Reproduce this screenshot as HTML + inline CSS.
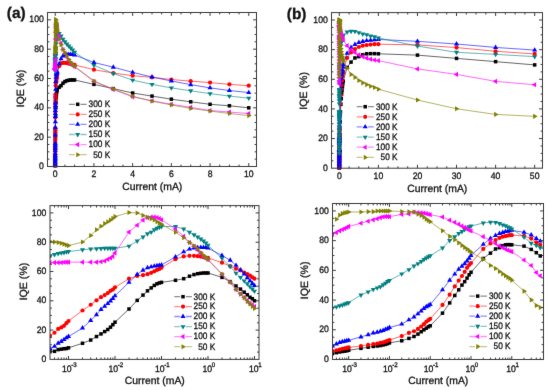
<!DOCTYPE html>
<html><head><meta charset="utf-8"><title>IQE vs Current</title>
<style>html,body{margin:0;padding:0;background:#fff;}body{width:550px;height:390px;overflow:hidden;}svg{display:block;font-family:"Liberation Sans",sans-serif;}</style></head><body>
<svg width="550" height="390" viewBox="0 0 550 390" font-family="Liberation Sans, sans-serif" text-rendering="geometricPrecision" fill="#111">
<style>text{stroke:#111;stroke-width:0.3px;}</style>
<defs><filter id="bl" color-interpolation-filters="sRGB" x="0" y="0" width="100%" height="100%" filterUnits="userSpaceOnUse"><feConvolveMatrix order="3" kernelMatrix="0.0052 0.0619 0.0052 0.0619 0.7314 0.0619 0.0052 0.0619 0.0052" preserveAlpha="true" edgeMode="duplicate"/></filter></defs>
<g filter="url(#bl)">
<rect width="550" height="390" fill="#fff"/>
<polyline fill="none" stroke="#000000" stroke-width="1.0" stroke-opacity="0.6" points="55.24,165.62 55.24,164.45 55.24,163.27 55.24,162.1 55.24,160.93 55.25,159.75 55.25,158.73 55.25,158.43 55.25,156.67 55.25,156.23 55.26,155.79 55.26,155.65 55.26,154.91 55.28,150.37 55.3,147.14 55.32,143.62 55.34,140.98 55.36,138.63 55.38,136.58 55.39,134.23 55.41,131.74 55.43,129.25 55.63,116.05 55.82,107.39 56.01,102.11 56.21,97.86 56.4,94.93 56.59,92.43 56.79,90.82 56.98,89.94 57.18,89.35 59.11,87.3 61.05,85.68 62.98,83.19 64.92,81.58 66.85,80.7 68.79,80.26 70.72,79.96 72.66,79.96 74.59,79.96 93.94,84.36 113.3,88.62 132.65,93.02 152,96.1 171.35,99.18 190.7,101.82 210.06,104.31 229.41,105.78 248.76,107.83"/>
<rect x="53.49" y="163.87" width="3.5" height="3.5" fill="#000000"/>
<rect x="53.49" y="162.7" width="3.5" height="3.5" fill="#000000"/>
<rect x="53.49" y="161.52" width="3.5" height="3.5" fill="#000000"/>
<rect x="53.49" y="160.35" width="3.5" height="3.5" fill="#000000"/>
<rect x="53.49" y="159.18" width="3.5" height="3.5" fill="#000000"/>
<rect x="53.5" y="158" width="3.5" height="3.5" fill="#000000"/>
<rect x="53.5" y="156.98" width="3.5" height="3.5" fill="#000000"/>
<rect x="53.5" y="156.68" width="3.5" height="3.5" fill="#000000"/>
<rect x="53.5" y="154.92" width="3.5" height="3.5" fill="#000000"/>
<rect x="53.5" y="154.48" width="3.5" height="3.5" fill="#000000"/>
<rect x="53.51" y="154.04" width="3.5" height="3.5" fill="#000000"/>
<rect x="53.51" y="153.9" width="3.5" height="3.5" fill="#000000"/>
<rect x="53.51" y="153.16" width="3.5" height="3.5" fill="#000000"/>
<rect x="53.53" y="148.62" width="3.5" height="3.5" fill="#000000"/>
<rect x="53.55" y="145.39" width="3.5" height="3.5" fill="#000000"/>
<rect x="53.57" y="141.87" width="3.5" height="3.5" fill="#000000"/>
<rect x="53.59" y="139.23" width="3.5" height="3.5" fill="#000000"/>
<rect x="53.61" y="136.88" width="3.5" height="3.5" fill="#000000"/>
<rect x="53.63" y="134.83" width="3.5" height="3.5" fill="#000000"/>
<rect x="53.64" y="132.48" width="3.5" height="3.5" fill="#000000"/>
<rect x="53.66" y="129.99" width="3.5" height="3.5" fill="#000000"/>
<rect x="53.68" y="127.5" width="3.5" height="3.5" fill="#000000"/>
<rect x="53.88" y="114.3" width="3.5" height="3.5" fill="#000000"/>
<rect x="54.07" y="105.64" width="3.5" height="3.5" fill="#000000"/>
<rect x="54.26" y="100.36" width="3.5" height="3.5" fill="#000000"/>
<rect x="54.46" y="96.11" width="3.5" height="3.5" fill="#000000"/>
<rect x="54.65" y="93.18" width="3.5" height="3.5" fill="#000000"/>
<rect x="54.84" y="90.68" width="3.5" height="3.5" fill="#000000"/>
<rect x="55.04" y="89.07" width="3.5" height="3.5" fill="#000000"/>
<rect x="55.23" y="88.19" width="3.5" height="3.5" fill="#000000"/>
<rect x="55.43" y="87.6" width="3.5" height="3.5" fill="#000000"/>
<rect x="57.36" y="85.55" width="3.5" height="3.5" fill="#000000"/>
<rect x="59.3" y="83.93" width="3.5" height="3.5" fill="#000000"/>
<rect x="61.23" y="81.44" width="3.5" height="3.5" fill="#000000"/>
<rect x="63.17" y="79.83" width="3.5" height="3.5" fill="#000000"/>
<rect x="65.1" y="78.95" width="3.5" height="3.5" fill="#000000"/>
<rect x="67.04" y="78.51" width="3.5" height="3.5" fill="#000000"/>
<rect x="68.97" y="78.21" width="3.5" height="3.5" fill="#000000"/>
<rect x="70.91" y="78.21" width="3.5" height="3.5" fill="#000000"/>
<rect x="72.84" y="78.21" width="3.5" height="3.5" fill="#000000"/>
<rect x="92.19" y="82.61" width="3.5" height="3.5" fill="#000000"/>
<rect x="111.55" y="86.87" width="3.5" height="3.5" fill="#000000"/>
<rect x="130.9" y="91.27" width="3.5" height="3.5" fill="#000000"/>
<rect x="150.25" y="94.35" width="3.5" height="3.5" fill="#000000"/>
<rect x="169.6" y="97.43" width="3.5" height="3.5" fill="#000000"/>
<rect x="188.95" y="100.07" width="3.5" height="3.5" fill="#000000"/>
<rect x="208.31" y="102.56" width="3.5" height="3.5" fill="#000000"/>
<rect x="227.66" y="104.03" width="3.5" height="3.5" fill="#000000"/>
<rect x="247.01" y="106.08" width="3.5" height="3.5" fill="#000000"/>
<polyline fill="none" stroke="#ff0000" stroke-width="1.0" stroke-opacity="0.6" points="55.24,165.77 55.24,163.57 55.24,160.63 55.24,157.7 55.24,154.77 55.24,151.83 55.24,148.9 55.25,145.97 55.25,142.89 55.25,139.81 55.25,135.99 55.25,134.53 55.26,132.91 55.26,130.27 55.26,128.07 55.28,117.51 55.3,111.79 55.32,107.39 55.34,104.17 55.36,102.11 55.38,100.06 55.39,97.86 55.41,96.54 55.43,94.34 55.63,85.68 55.82,82.9 56.01,82.16 56.21,81.14 56.4,79.82 56.59,78.35 56.79,76.88 56.98,75.86 57.18,74.68 59.11,66.18 61.05,63.39 62.98,62.8 64.92,62.8 66.85,63.1 68.79,63.54 70.72,64.12 72.66,64.56 74.59,64.86 93.94,69.7 113.3,73.07 132.65,75.71 152,77.32 171.35,79.52 190.7,81.14 210.06,82.6 229.41,84.36 248.76,85.68"/>
<circle cx="55.24" cy="165.77" r="2.1" fill="#ff0000"/>
<circle cx="55.24" cy="163.57" r="2.1" fill="#ff0000"/>
<circle cx="55.24" cy="160.63" r="2.1" fill="#ff0000"/>
<circle cx="55.24" cy="157.7" r="2.1" fill="#ff0000"/>
<circle cx="55.24" cy="154.77" r="2.1" fill="#ff0000"/>
<circle cx="55.24" cy="151.83" r="2.1" fill="#ff0000"/>
<circle cx="55.24" cy="148.9" r="2.1" fill="#ff0000"/>
<circle cx="55.25" cy="145.97" r="2.1" fill="#ff0000"/>
<circle cx="55.25" cy="142.89" r="2.1" fill="#ff0000"/>
<circle cx="55.25" cy="139.81" r="2.1" fill="#ff0000"/>
<circle cx="55.25" cy="135.99" r="2.1" fill="#ff0000"/>
<circle cx="55.25" cy="134.53" r="2.1" fill="#ff0000"/>
<circle cx="55.26" cy="132.91" r="2.1" fill="#ff0000"/>
<circle cx="55.26" cy="130.27" r="2.1" fill="#ff0000"/>
<circle cx="55.26" cy="128.07" r="2.1" fill="#ff0000"/>
<circle cx="55.28" cy="117.51" r="2.1" fill="#ff0000"/>
<circle cx="55.3" cy="111.79" r="2.1" fill="#ff0000"/>
<circle cx="55.32" cy="107.39" r="2.1" fill="#ff0000"/>
<circle cx="55.34" cy="104.17" r="2.1" fill="#ff0000"/>
<circle cx="55.36" cy="102.11" r="2.1" fill="#ff0000"/>
<circle cx="55.38" cy="100.06" r="2.1" fill="#ff0000"/>
<circle cx="55.39" cy="97.86" r="2.1" fill="#ff0000"/>
<circle cx="55.41" cy="96.54" r="2.1" fill="#ff0000"/>
<circle cx="55.43" cy="94.34" r="2.1" fill="#ff0000"/>
<circle cx="55.63" cy="85.68" r="2.1" fill="#ff0000"/>
<circle cx="55.82" cy="82.9" r="2.1" fill="#ff0000"/>
<circle cx="56.01" cy="82.16" r="2.1" fill="#ff0000"/>
<circle cx="56.21" cy="81.14" r="2.1" fill="#ff0000"/>
<circle cx="56.4" cy="79.82" r="2.1" fill="#ff0000"/>
<circle cx="56.59" cy="78.35" r="2.1" fill="#ff0000"/>
<circle cx="56.79" cy="76.88" r="2.1" fill="#ff0000"/>
<circle cx="56.98" cy="75.86" r="2.1" fill="#ff0000"/>
<circle cx="57.18" cy="74.68" r="2.1" fill="#ff0000"/>
<circle cx="59.11" cy="66.18" r="2.1" fill="#ff0000"/>
<circle cx="61.05" cy="63.39" r="2.1" fill="#ff0000"/>
<circle cx="62.98" cy="62.8" r="2.1" fill="#ff0000"/>
<circle cx="64.92" cy="62.8" r="2.1" fill="#ff0000"/>
<circle cx="66.85" cy="63.1" r="2.1" fill="#ff0000"/>
<circle cx="68.79" cy="63.54" r="2.1" fill="#ff0000"/>
<circle cx="70.72" cy="64.12" r="2.1" fill="#ff0000"/>
<circle cx="72.66" cy="64.56" r="2.1" fill="#ff0000"/>
<circle cx="74.59" cy="64.86" r="2.1" fill="#ff0000"/>
<circle cx="93.94" cy="69.7" r="2.1" fill="#ff0000"/>
<circle cx="113.3" cy="73.07" r="2.1" fill="#ff0000"/>
<circle cx="132.65" cy="75.71" r="2.1" fill="#ff0000"/>
<circle cx="152" cy="77.32" r="2.1" fill="#ff0000"/>
<circle cx="171.35" cy="79.52" r="2.1" fill="#ff0000"/>
<circle cx="190.7" cy="81.14" r="2.1" fill="#ff0000"/>
<circle cx="210.06" cy="82.6" r="2.1" fill="#ff0000"/>
<circle cx="229.41" cy="84.36" r="2.1" fill="#ff0000"/>
<circle cx="248.76" cy="85.68" r="2.1" fill="#ff0000"/>
<polyline fill="none" stroke="#0000ff" stroke-width="1.0" stroke-opacity="0.6" points="55.24,165.77 55.24,164.3 55.24,162.83 55.24,161.37 55.24,159.9 55.24,158.43 55.25,156.97 55.25,155.5 55.25,153.45 55.25,150.37 55.25,148.61 55.26,146.7 55.26,144.94 55.26,143.62 55.28,135.11 55.3,127.49 55.32,121.77 55.34,116.49 55.36,113.41 55.38,110.62 55.39,107.98 55.41,105.49 55.43,102.85 55.63,89.35 55.82,81.43 56.01,77.18 56.21,74.68 56.4,73.8 56.59,73.07 56.79,72.78 56.98,72.34 57.18,71.9 59.11,63.83 61.05,58.84 62.98,56.06 64.92,55.03 66.85,54.59 68.79,54.44 70.72,54.44 72.66,54.59 74.59,55.03 93.94,62.51 113.3,67.2 132.65,72.34 152,77.03 171.35,80.99 190.7,84.66 210.06,87.88 229.41,90.52 248.76,92.58"/>
<path d="M55.24 162.82 L52.69 167.24 L57.79 167.24 Z" fill="#0000ff"/>
<path d="M55.24 161.36 L52.69 165.77 L57.79 165.77 Z" fill="#0000ff"/>
<path d="M55.24 159.89 L52.69 164.31 L57.79 164.31 Z" fill="#0000ff"/>
<path d="M55.24 158.42 L52.69 162.84 L57.79 162.84 Z" fill="#0000ff"/>
<path d="M55.24 156.96 L52.69 161.37 L57.79 161.37 Z" fill="#0000ff"/>
<path d="M55.24 155.49 L52.69 159.91 L57.79 159.91 Z" fill="#0000ff"/>
<path d="M55.25 154.02 L52.7 158.44 L57.8 158.44 Z" fill="#0000ff"/>
<path d="M55.25 152.56 L52.7 156.97 L57.8 156.97 Z" fill="#0000ff"/>
<path d="M55.25 150.5 L52.7 154.92 L57.8 154.92 Z" fill="#0000ff"/>
<path d="M55.25 147.42 L52.7 151.84 L57.8 151.84 Z" fill="#0000ff"/>
<path d="M55.25 145.66 L52.7 150.08 L57.8 150.08 Z" fill="#0000ff"/>
<path d="M55.26 143.76 L52.71 148.17 L57.81 148.17 Z" fill="#0000ff"/>
<path d="M55.26 142 L52.71 146.41 L57.81 146.41 Z" fill="#0000ff"/>
<path d="M55.26 140.68 L52.71 145.09 L57.81 145.09 Z" fill="#0000ff"/>
<path d="M55.28 132.17 L52.73 136.58 L57.83 136.58 Z" fill="#0000ff"/>
<path d="M55.3 124.54 L52.75 128.96 L57.85 128.96 Z" fill="#0000ff"/>
<path d="M55.32 118.82 L52.77 123.24 L57.87 123.24 Z" fill="#0000ff"/>
<path d="M55.34 113.54 L52.79 117.96 L57.89 117.96 Z" fill="#0000ff"/>
<path d="M55.36 110.46 L52.81 114.88 L57.91 114.88 Z" fill="#0000ff"/>
<path d="M55.38 107.67 L52.83 112.09 L57.93 112.09 Z" fill="#0000ff"/>
<path d="M55.39 105.03 L52.84 109.45 L57.94 109.45 Z" fill="#0000ff"/>
<path d="M55.41 102.54 L52.86 106.96 L57.96 106.96 Z" fill="#0000ff"/>
<path d="M55.43 99.9 L52.88 104.32 L57.98 104.32 Z" fill="#0000ff"/>
<path d="M55.63 86.41 L53.08 90.82 L58.18 90.82 Z" fill="#0000ff"/>
<path d="M55.82 78.49 L53.27 82.9 L58.37 82.9 Z" fill="#0000ff"/>
<path d="M56.01 74.23 L53.46 78.65 L58.56 78.65 Z" fill="#0000ff"/>
<path d="M56.21 71.74 L53.66 76.16 L58.76 76.16 Z" fill="#0000ff"/>
<path d="M56.4 70.86 L53.85 75.28 L58.95 75.28 Z" fill="#0000ff"/>
<path d="M56.59 70.13 L54.04 74.54 L59.14 74.54 Z" fill="#0000ff"/>
<path d="M56.79 69.83 L54.24 74.25 L59.34 74.25 Z" fill="#0000ff"/>
<path d="M56.98 69.39 L54.43 73.81 L59.53 73.81 Z" fill="#0000ff"/>
<path d="M57.18 68.95 L54.63 73.37 L59.73 73.37 Z" fill="#0000ff"/>
<path d="M59.11 60.89 L56.56 65.3 L61.66 65.3 Z" fill="#0000ff"/>
<path d="M61.05 55.9 L58.5 60.32 L63.6 60.32 Z" fill="#0000ff"/>
<path d="M62.98 53.11 L60.43 57.53 L65.53 57.53 Z" fill="#0000ff"/>
<path d="M64.92 52.09 L62.37 56.5 L67.47 56.5 Z" fill="#0000ff"/>
<path d="M66.85 51.65 L64.3 56.06 L69.4 56.06 Z" fill="#0000ff"/>
<path d="M68.79 51.5 L66.24 55.92 L71.34 55.92 Z" fill="#0000ff"/>
<path d="M70.72 51.5 L68.17 55.92 L73.27 55.92 Z" fill="#0000ff"/>
<path d="M72.66 51.65 L70.11 56.06 L75.21 56.06 Z" fill="#0000ff"/>
<path d="M74.59 52.09 L72.04 56.5 L77.14 56.5 Z" fill="#0000ff"/>
<path d="M93.94 59.57 L91.39 63.98 L96.49 63.98 Z" fill="#0000ff"/>
<path d="M113.3 64.26 L110.75 68.68 L115.85 68.68 Z" fill="#0000ff"/>
<path d="M132.65 69.39 L130.1 73.81 L135.2 73.81 Z" fill="#0000ff"/>
<path d="M152 74.09 L149.45 78.5 L154.55 78.5 Z" fill="#0000ff"/>
<path d="M171.35 78.05 L168.8 82.46 L173.9 82.46 Z" fill="#0000ff"/>
<path d="M190.7 81.71 L188.15 86.13 L193.25 86.13 Z" fill="#0000ff"/>
<path d="M210.06 84.94 L207.51 89.36 L212.61 89.36 Z" fill="#0000ff"/>
<path d="M229.41 87.58 L226.86 92 L231.96 92 Z" fill="#0000ff"/>
<path d="M248.76 89.63 L246.21 94.05 L251.31 94.05 Z" fill="#0000ff"/>
<polyline fill="none" stroke="#008080" stroke-width="1.0" stroke-opacity="0.6" points="55.24,71.16 55.24,69.7 55.24,68.23 55.24,66.76 55.24,65.3 55.25,63.83 55.25,62.8 55.25,61.48 55.25,60.46 55.25,59.87 55.26,59.43 55.26,58.84 55.26,58.55 55.28,56.79 55.3,55.91 55.32,55.76 55.34,55.47 55.36,55.18 55.38,55.18 55.39,55.18 55.41,55.18 55.43,55.18 55.63,53.12 55.82,47.99 56.01,43.88 56.21,40.66 56.4,39.04 56.59,36.7 56.79,35.23 56.98,34.2 57.18,33.47 59.11,33.47 61.05,35.96 62.98,39.19 64.92,41.68 66.85,44.03 68.79,45.94 70.72,47.99 72.66,49.9 74.59,52.24 93.94,65.3 113.3,73.51 132.65,80.11 152,84.36 171.35,87.88 190.7,90.82 210.06,93.61 229.41,96.1 248.76,98.15"/>
<path d="M55.24 74.11 L52.69 69.69 L57.79 69.69 Z" fill="#008080"/>
<path d="M55.24 72.64 L52.69 68.23 L57.79 68.23 Z" fill="#008080"/>
<path d="M55.24 71.18 L52.69 66.76 L57.79 66.76 Z" fill="#008080"/>
<path d="M55.24 69.71 L52.69 65.29 L57.79 65.29 Z" fill="#008080"/>
<path d="M55.24 68.24 L52.69 63.83 L57.79 63.83 Z" fill="#008080"/>
<path d="M55.25 66.78 L52.7 62.36 L57.8 62.36 Z" fill="#008080"/>
<path d="M55.25 65.75 L52.7 61.33 L57.8 61.33 Z" fill="#008080"/>
<path d="M55.25 64.43 L52.7 60.01 L57.8 60.01 Z" fill="#008080"/>
<path d="M55.25 63.4 L52.7 58.99 L57.8 58.99 Z" fill="#008080"/>
<path d="M55.25 62.82 L52.7 58.4 L57.8 58.4 Z" fill="#008080"/>
<path d="M55.26 62.38 L52.71 57.96 L57.81 57.96 Z" fill="#008080"/>
<path d="M55.26 61.79 L52.71 57.37 L57.81 57.37 Z" fill="#008080"/>
<path d="M55.26 61.5 L52.71 57.08 L57.81 57.08 Z" fill="#008080"/>
<path d="M55.28 59.74 L52.73 55.32 L57.83 55.32 Z" fill="#008080"/>
<path d="M55.3 58.86 L52.75 54.44 L57.85 54.44 Z" fill="#008080"/>
<path d="M55.32 58.71 L52.77 54.29 L57.87 54.29 Z" fill="#008080"/>
<path d="M55.34 58.42 L52.79 54 L57.89 54 Z" fill="#008080"/>
<path d="M55.36 58.12 L52.81 53.71 L57.91 53.71 Z" fill="#008080"/>
<path d="M55.38 58.12 L52.83 53.71 L57.93 53.71 Z" fill="#008080"/>
<path d="M55.39 58.12 L52.84 53.71 L57.94 53.71 Z" fill="#008080"/>
<path d="M55.41 58.12 L52.86 53.71 L57.96 53.71 Z" fill="#008080"/>
<path d="M55.43 58.12 L52.88 53.71 L57.98 53.71 Z" fill="#008080"/>
<path d="M55.63 56.07 L53.08 51.65 L58.18 51.65 Z" fill="#008080"/>
<path d="M55.82 50.94 L53.27 46.52 L58.37 46.52 Z" fill="#008080"/>
<path d="M56.01 46.83 L53.46 42.41 L58.56 42.41 Z" fill="#008080"/>
<path d="M56.21 43.6 L53.66 39.18 L58.76 39.18 Z" fill="#008080"/>
<path d="M56.4 41.99 L53.85 37.57 L58.95 37.57 Z" fill="#008080"/>
<path d="M56.59 39.64 L54.04 35.22 L59.14 35.22 Z" fill="#008080"/>
<path d="M56.79 38.17 L54.24 33.76 L59.34 33.76 Z" fill="#008080"/>
<path d="M56.98 37.15 L54.43 32.73 L59.53 32.73 Z" fill="#008080"/>
<path d="M57.18 36.41 L54.63 32 L59.73 32 Z" fill="#008080"/>
<path d="M59.11 36.41 L56.56 32 L61.66 32 Z" fill="#008080"/>
<path d="M61.05 38.91 L58.5 34.49 L63.6 34.49 Z" fill="#008080"/>
<path d="M62.98 42.13 L60.43 37.72 L65.53 37.72 Z" fill="#008080"/>
<path d="M64.92 44.63 L62.37 40.21 L67.47 40.21 Z" fill="#008080"/>
<path d="M66.85 46.97 L64.3 42.56 L69.4 42.56 Z" fill="#008080"/>
<path d="M68.79 48.88 L66.24 44.47 L71.34 44.47 Z" fill="#008080"/>
<path d="M70.72 50.94 L68.17 46.52 L73.27 46.52 Z" fill="#008080"/>
<path d="M72.66 52.84 L70.11 48.43 L75.21 48.43 Z" fill="#008080"/>
<path d="M74.59 55.19 L72.04 50.77 L77.14 50.77 Z" fill="#008080"/>
<path d="M93.94 68.24 L91.39 63.83 L96.49 63.83 Z" fill="#008080"/>
<path d="M113.3 76.46 L110.75 72.04 L115.85 72.04 Z" fill="#008080"/>
<path d="M132.65 83.06 L130.1 78.64 L135.2 78.64 Z" fill="#008080"/>
<path d="M152 87.31 L149.45 82.89 L154.55 82.89 Z" fill="#008080"/>
<path d="M171.35 90.83 L168.8 86.41 L173.9 86.41 Z" fill="#008080"/>
<path d="M190.7 93.76 L188.15 89.35 L193.25 89.35 Z" fill="#008080"/>
<path d="M210.06 96.55 L207.51 92.13 L212.61 92.13 Z" fill="#008080"/>
<path d="M229.41 99.04 L226.86 94.63 L231.96 94.63 Z" fill="#008080"/>
<path d="M248.76 101.1 L246.21 96.68 L251.31 96.68 Z" fill="#008080"/>
<polyline fill="none" stroke="#ff00ff" stroke-width="1.0" stroke-opacity="0.6" points="55.24,69.7 55.24,69.7 55.25,69.7 55.25,69.55 55.25,69.55 55.25,69.55 55.25,69.55 55.26,69.26 55.26,69.11 55.26,69.11 55.28,69.11 55.3,69.11 55.32,69.11 55.34,68.67 55.36,67.94 55.38,66.32 55.39,65 55.41,63.39 55.43,59.87 55.63,39.04 55.82,32.15 56.01,27.02 56.21,24.67 56.4,23.94 56.59,23.94 56.79,24.38 56.98,25.4 57.18,26.72 59.11,35.96 61.05,43.3 62.98,49.46 64.92,53.27 66.85,57.23 68.79,60.31 70.72,63.39 72.66,65.3 74.59,66.76 93.94,81.43 113.3,89.5 132.65,96.83 152,100.79 171.35,104.31 190.7,107.39 210.06,110.47 229.41,112.09 248.76,113.55"/>
<path d="M52.3 69.7 L56.71 67.15 L56.71 72.25 Z" fill="#ff00ff"/>
<path d="M52.3 69.7 L56.72 67.15 L56.72 72.25 Z" fill="#ff00ff"/>
<path d="M52.3 69.7 L56.72 67.15 L56.72 72.25 Z" fill="#ff00ff"/>
<path d="M52.3 69.55 L56.72 67 L56.72 72.1 Z" fill="#ff00ff"/>
<path d="M52.31 69.55 L56.72 67 L56.72 72.1 Z" fill="#ff00ff"/>
<path d="M52.31 69.55 L56.72 67 L56.72 72.1 Z" fill="#ff00ff"/>
<path d="M52.31 69.55 L56.73 67 L56.73 72.1 Z" fill="#ff00ff"/>
<path d="M52.31 69.26 L56.73 66.71 L56.73 71.81 Z" fill="#ff00ff"/>
<path d="M52.31 69.11 L56.73 66.56 L56.73 71.66 Z" fill="#ff00ff"/>
<path d="M52.31 69.11 L56.73 66.56 L56.73 71.66 Z" fill="#ff00ff"/>
<path d="M52.33 69.11 L56.75 66.56 L56.75 71.66 Z" fill="#ff00ff"/>
<path d="M52.35 69.11 L56.77 66.56 L56.77 71.66 Z" fill="#ff00ff"/>
<path d="M52.37 69.11 L56.79 66.56 L56.79 71.66 Z" fill="#ff00ff"/>
<path d="M52.39 68.67 L56.81 66.12 L56.81 71.22 Z" fill="#ff00ff"/>
<path d="M52.41 67.94 L56.83 65.39 L56.83 70.49 Z" fill="#ff00ff"/>
<path d="M52.43 66.32 L56.85 63.77 L56.85 68.87 Z" fill="#ff00ff"/>
<path d="M52.45 65 L56.87 62.45 L56.87 67.55 Z" fill="#ff00ff"/>
<path d="M52.47 63.39 L56.89 60.84 L56.89 65.94 Z" fill="#ff00ff"/>
<path d="M52.49 59.87 L56.91 57.32 L56.91 62.42 Z" fill="#ff00ff"/>
<path d="M52.68 39.04 L57.1 36.49 L57.1 41.59 Z" fill="#ff00ff"/>
<path d="M52.88 32.15 L57.29 29.6 L57.29 34.7 Z" fill="#ff00ff"/>
<path d="M53.07 27.02 L57.49 24.47 L57.49 29.57 Z" fill="#ff00ff"/>
<path d="M53.26 24.67 L57.68 22.12 L57.68 27.22 Z" fill="#ff00ff"/>
<path d="M53.46 23.94 L57.87 21.39 L57.87 26.49 Z" fill="#ff00ff"/>
<path d="M53.65 23.94 L58.07 21.39 L58.07 26.49 Z" fill="#ff00ff"/>
<path d="M53.84 24.38 L58.26 21.83 L58.26 26.93 Z" fill="#ff00ff"/>
<path d="M54.04 25.4 L58.45 22.85 L58.45 27.95 Z" fill="#ff00ff"/>
<path d="M54.23 26.72 L58.65 24.17 L58.65 29.27 Z" fill="#ff00ff"/>
<path d="M56.17 35.96 L60.58 33.41 L60.58 38.51 Z" fill="#ff00ff"/>
<path d="M58.1 43.3 L62.52 40.75 L62.52 45.85 Z" fill="#ff00ff"/>
<path d="M60.04 49.46 L64.45 46.91 L64.45 52.01 Z" fill="#ff00ff"/>
<path d="M61.97 53.27 L66.39 50.72 L66.39 55.82 Z" fill="#ff00ff"/>
<path d="M63.91 57.23 L68.32 54.68 L68.32 59.78 Z" fill="#ff00ff"/>
<path d="M65.84 60.31 L70.26 57.76 L70.26 62.86 Z" fill="#ff00ff"/>
<path d="M67.78 63.39 L72.19 60.84 L72.19 65.94 Z" fill="#ff00ff"/>
<path d="M69.71 65.3 L74.13 62.75 L74.13 67.85 Z" fill="#ff00ff"/>
<path d="M71.65 66.76 L76.06 64.21 L76.06 69.31 Z" fill="#ff00ff"/>
<path d="M91 81.43 L95.42 78.88 L95.42 83.98 Z" fill="#ff00ff"/>
<path d="M110.35 89.5 L114.77 86.95 L114.77 92.05 Z" fill="#ff00ff"/>
<path d="M129.7 96.83 L134.12 94.28 L134.12 99.38 Z" fill="#ff00ff"/>
<path d="M149.06 100.79 L153.47 98.24 L153.47 103.34 Z" fill="#ff00ff"/>
<path d="M168.41 104.31 L172.82 101.76 L172.82 106.86 Z" fill="#ff00ff"/>
<path d="M187.76 107.39 L192.18 104.84 L192.18 109.94 Z" fill="#ff00ff"/>
<path d="M207.11 110.47 L211.53 107.92 L211.53 113.02 Z" fill="#ff00ff"/>
<path d="M226.46 112.09 L230.88 109.54 L230.88 114.64 Z" fill="#ff00ff"/>
<path d="M245.82 113.55 L250.23 111 L250.23 116.1 Z" fill="#ff00ff"/>
<polyline fill="none" stroke="#808000" stroke-width="1.0" stroke-opacity="0.6" points="55.24,46.23 55.24,46.96 55.25,47.7 55.25,48.28 55.25,49.02 55.25,49.46 55.25,50.19 55.26,51.07 55.26,51.95 55.26,52.54 55.28,49.02 55.3,42.42 55.32,36.7 55.34,33.18 55.36,30.54 55.38,28.63 55.39,27.02 55.41,25.11 55.43,23.5 55.63,19.39 55.82,19.98 56.01,22.32 56.21,24.23 56.4,25.7 56.59,26.87 56.79,28.63 56.98,30.1 57.18,31.12 59.11,39.19 61.05,44.76 62.98,49.46 64.92,52.68 66.85,55.76 68.79,59.43 70.72,62.22 72.66,64.56 74.59,66.32 93.94,80.99 113.3,89.06 132.65,96.25 152,101.23 171.35,104.9 190.7,108.42 210.06,111.06 229.41,113.55 248.76,115.61"/>
<path d="M58.19 46.23 L53.77 43.68 L53.77 48.78 Z" fill="#808000"/>
<path d="M58.19 46.96 L53.77 44.41 L53.77 49.51 Z" fill="#808000"/>
<path d="M58.19 47.7 L53.77 45.15 L53.77 50.25 Z" fill="#808000"/>
<path d="M58.19 48.28 L53.78 45.73 L53.78 50.83 Z" fill="#808000"/>
<path d="M58.19 49.02 L53.78 46.47 L53.78 51.57 Z" fill="#808000"/>
<path d="M58.2 49.46 L53.78 46.91 L53.78 52.01 Z" fill="#808000"/>
<path d="M58.2 50.19 L53.78 47.64 L53.78 52.74 Z" fill="#808000"/>
<path d="M58.2 51.07 L53.78 48.52 L53.78 53.62 Z" fill="#808000"/>
<path d="M58.2 51.95 L53.79 49.4 L53.79 54.5 Z" fill="#808000"/>
<path d="M58.2 52.54 L53.79 49.99 L53.79 55.09 Z" fill="#808000"/>
<path d="M58.22 49.02 L53.81 46.47 L53.81 51.57 Z" fill="#808000"/>
<path d="M58.24 42.42 L53.83 39.87 L53.83 44.97 Z" fill="#808000"/>
<path d="M58.26 36.7 L53.85 34.15 L53.85 39.25 Z" fill="#808000"/>
<path d="M58.28 33.18 L53.86 30.63 L53.86 35.73 Z" fill="#808000"/>
<path d="M58.3 30.54 L53.88 27.99 L53.88 33.09 Z" fill="#808000"/>
<path d="M58.32 28.63 L53.9 26.08 L53.9 31.18 Z" fill="#808000"/>
<path d="M58.34 27.02 L53.92 24.47 L53.92 29.57 Z" fill="#808000"/>
<path d="M58.36 25.11 L53.94 22.56 L53.94 27.66 Z" fill="#808000"/>
<path d="M58.38 23.5 L53.96 20.95 L53.96 26.05 Z" fill="#808000"/>
<path d="M58.57 19.39 L54.15 16.84 L54.15 21.94 Z" fill="#808000"/>
<path d="M58.76 19.98 L54.35 17.43 L54.35 22.53 Z" fill="#808000"/>
<path d="M58.96 22.32 L54.54 19.77 L54.54 24.87 Z" fill="#808000"/>
<path d="M59.15 24.23 L54.74 21.68 L54.74 26.78 Z" fill="#808000"/>
<path d="M59.35 25.7 L54.93 23.15 L54.93 28.25 Z" fill="#808000"/>
<path d="M59.54 26.87 L55.12 24.32 L55.12 29.42 Z" fill="#808000"/>
<path d="M59.73 28.63 L55.32 26.08 L55.32 31.18 Z" fill="#808000"/>
<path d="M59.93 30.1 L55.51 27.55 L55.51 32.65 Z" fill="#808000"/>
<path d="M60.12 31.12 L55.7 28.57 L55.7 33.67 Z" fill="#808000"/>
<path d="M62.05 39.19 L57.64 36.64 L57.64 41.74 Z" fill="#808000"/>
<path d="M63.99 44.76 L59.57 42.21 L59.57 47.31 Z" fill="#808000"/>
<path d="M65.93 49.46 L61.51 46.91 L61.51 52.01 Z" fill="#808000"/>
<path d="M67.86 52.68 L63.44 50.13 L63.44 55.23 Z" fill="#808000"/>
<path d="M69.8 55.76 L65.38 53.21 L65.38 58.31 Z" fill="#808000"/>
<path d="M71.73 59.43 L67.31 56.88 L67.31 61.98 Z" fill="#808000"/>
<path d="M73.67 62.22 L69.25 59.67 L69.25 64.77 Z" fill="#808000"/>
<path d="M75.6 64.56 L71.18 62.01 L71.18 67.11 Z" fill="#808000"/>
<path d="M77.54 66.32 L73.12 63.77 L73.12 68.87 Z" fill="#808000"/>
<path d="M96.89 80.99 L92.47 78.44 L92.47 83.54 Z" fill="#808000"/>
<path d="M116.24 89.06 L111.82 86.51 L111.82 91.61 Z" fill="#808000"/>
<path d="M135.59 96.25 L131.18 93.7 L131.18 98.8 Z" fill="#808000"/>
<path d="M154.94 101.23 L150.53 98.68 L150.53 103.78 Z" fill="#808000"/>
<path d="M174.3 104.9 L169.88 102.35 L169.88 107.45 Z" fill="#808000"/>
<path d="M193.65 108.42 L189.23 105.87 L189.23 110.97 Z" fill="#808000"/>
<path d="M213 111.06 L208.58 108.51 L208.58 113.61 Z" fill="#808000"/>
<path d="M232.35 113.55 L227.94 111 L227.94 116.1 Z" fill="#808000"/>
<path d="M251.7 115.61 L247.29 113.06 L247.29 118.16 Z" fill="#808000"/>
<rect x="47.5" y="12.5" width="209" height="154" fill="none" stroke="#3a3a3a" stroke-width="1.0"/>
<path d="M55.24 166.5v-3.4M55.24 12.5v3.4M93.94 166.5v-3.4M93.94 12.5v3.4M132.65 166.5v-3.4M132.65 12.5v3.4M171.35 166.5v-3.4M171.35 12.5v3.4M210.06 166.5v-3.4M210.06 12.5v3.4M248.76 166.5v-3.4M248.76 12.5v3.4M64.92 166.5v-1.9M64.92 12.5v1.9M74.59 166.5v-1.9M74.59 12.5v1.9M84.27 166.5v-1.9M84.27 12.5v1.9M103.62 166.5v-1.9M103.62 12.5v1.9M113.3 166.5v-1.9M113.3 12.5v1.9M122.97 166.5v-1.9M122.97 12.5v1.9M142.32 166.5v-1.9M142.32 12.5v1.9M152 166.5v-1.9M152 12.5v1.9M161.68 166.5v-1.9M161.68 12.5v1.9M181.03 166.5v-1.9M181.03 12.5v1.9M190.7 166.5v-1.9M190.7 12.5v1.9M200.38 166.5v-1.9M200.38 12.5v1.9M219.73 166.5v-1.9M219.73 12.5v1.9M229.41 166.5v-1.9M229.41 12.5v1.9M239.08 166.5v-1.9M239.08 12.5v1.9M47.5 159.17h1.9M256.5 159.17h-1.9M47.5 151.83h1.9M256.5 151.83h-1.9M47.5 144.5h1.9M256.5 144.5h-1.9M47.5 137.17h3.4M256.5 137.17h-3.4M47.5 129.83h1.9M256.5 129.83h-1.9M47.5 122.5h1.9M256.5 122.5h-1.9M47.5 115.17h1.9M256.5 115.17h-1.9M47.5 107.83h3.4M256.5 107.83h-3.4M47.5 100.5h1.9M256.5 100.5h-1.9M47.5 93.17h1.9M256.5 93.17h-1.9M47.5 85.83h1.9M256.5 85.83h-1.9M47.5 78.5h3.4M256.5 78.5h-3.4M47.5 71.16h1.9M256.5 71.16h-1.9M47.5 63.83h1.9M256.5 63.83h-1.9M47.5 56.5h1.9M256.5 56.5h-1.9M47.5 49.16h3.4M256.5 49.16h-3.4M47.5 41.83h1.9M256.5 41.83h-1.9M47.5 34.5h1.9M256.5 34.5h-1.9M47.5 27.16h1.9M256.5 27.16h-1.9M47.5 19.83h3.4M256.5 19.83h-3.4" stroke="#3a3a3a" stroke-width="1.0" fill="none"/>
<text transform="translate(43.8 169.13) scale(0.93 1)" text-anchor="end" font-size="9.3">0</text>
<text transform="translate(43.8 139.79) scale(0.93 1)" text-anchor="end" font-size="9.3">20</text>
<text transform="translate(43.8 110.46) scale(0.93 1)" text-anchor="end" font-size="9.3">40</text>
<text transform="translate(43.8 81.13) scale(0.93 1)" text-anchor="end" font-size="9.3">60</text>
<text transform="translate(43.8 51.79) scale(0.93 1)" text-anchor="end" font-size="9.3">80</text>
<text transform="translate(43.8 22.46) scale(0.93 1)" text-anchor="end" font-size="9.3">100</text>
<text transform="translate(55.24 177.2) scale(0.93 1)" text-anchor="middle" font-size="9.3">0</text>
<text transform="translate(93.94 177.2) scale(0.93 1)" text-anchor="middle" font-size="9.3">2</text>
<text transform="translate(132.65 177.2) scale(0.93 1)" text-anchor="middle" font-size="9.3">4</text>
<text transform="translate(171.35 177.2) scale(0.93 1)" text-anchor="middle" font-size="9.3">6</text>
<text transform="translate(210.06 177.2) scale(0.93 1)" text-anchor="middle" font-size="9.3">8</text>
<text transform="translate(248.76 177.2) scale(0.93 1)" text-anchor="middle" font-size="9.3">10</text>
<text x="152.3" y="190.1" text-anchor="middle" font-size="10.4">Current (mA)</text>
<text transform="translate(23.6 88.5) rotate(-90)" text-anchor="middle" font-size="10.6">IQE (%)</text>
<path d="M69 104.3H74.9M80.5 104.3H86.6" stroke="#000000" stroke-width="1.3" opacity="0.45"/>
<rect x="75.95" y="102.55" width="3.5" height="3.5" fill="#000000"/>
<text transform="translate(110.2 107.1) scale(0.89 1)" text-anchor="end" font-size="9.3">300 K</text>
<path d="M69 114.4H74.9M80.5 114.4H86.6" stroke="#ff0000" stroke-width="1.3" opacity="0.45"/>
<circle cx="77.7" cy="114.4" r="2.1" fill="#ff0000"/>
<text transform="translate(110.2 117.2) scale(0.89 1)" text-anchor="end" font-size="9.3">250 K</text>
<path d="M69 124.4H74.9M80.5 124.4H86.6" stroke="#0000ff" stroke-width="1.3" opacity="0.45"/>
<path d="M77.7 121.46 L75.15 125.87 L80.25 125.87 Z" fill="#0000ff"/>
<text transform="translate(110.2 127.2) scale(0.89 1)" text-anchor="end" font-size="9.3">200 K</text>
<path d="M69 134.5H74.9M80.5 134.5H86.6" stroke="#008080" stroke-width="1.3" opacity="0.45"/>
<path d="M77.7 137.44 L75.15 133.03 L80.25 133.03 Z" fill="#008080"/>
<text transform="translate(110.2 137.3) scale(0.89 1)" text-anchor="end" font-size="9.3">150 K</text>
<path d="M69 144.6H74.9M80.5 144.6H86.6" stroke="#ff00ff" stroke-width="1.3" opacity="0.45"/>
<path d="M74.76 144.6 L79.17 142.05 L79.17 147.15 Z" fill="#ff00ff"/>
<text transform="translate(110.2 147.4) scale(0.89 1)" text-anchor="end" font-size="9.3">100 K</text>
<path d="M69 154.7H74.9M80.5 154.7H86.6" stroke="#808000" stroke-width="1.3" opacity="0.45"/>
<path d="M80.64 154.7 L76.23 152.15 L76.23 157.25 Z" fill="#808000"/>
<text transform="translate(110.2 157.5) scale(0.89 1)" text-anchor="end" font-size="9.3">50 K</text>
<text x="6.8" y="18.4" font-size="15.4" font-weight="bold">(a)</text>
<polyline fill="none" stroke="#000000" stroke-width="1.0" stroke-opacity="0.6" points="339.31,168.2 339.31,167.46 339.31,166.72 339.31,165.98 339.31,165.24 339.31,164.5 339.31,163.75 339.31,163.01 339.31,162.27 339.31,161.38 339.31,160.64 339.31,160.2 339.31,159.9 339.31,159.46 339.31,159.01 339.32,157.09 339.32,155.9 339.33,155.16 339.33,154.71 339.33,154.27 339.34,153.68 339.34,153.08 339.35,152.34 339.35,151.6 339.39,149.53 339.43,147.16 339.47,145.23 339.51,142.86 339.54,140.49 339.58,138.56 339.62,136.93 339.66,135.6 339.7,134.56 340.09,121.96 340.48,111.74 340.87,104.33 341.26,98.7 341.65,93.96 342.05,90.55 342.44,86.99 342.83,83.73 343.22,81.21 347.12,67.43 351.03,62.1 354.94,57.95 358.85,56.61 362.75,54.83 366.66,53.8 370.57,53.65 374.48,53.65 378.38,53.8 417.46,55.13 456.53,58.39 495.61,61.65 534.68,64.91"/>
<rect x="337.56" y="166.45" width="3.5" height="3.5" fill="#000000"/>
<rect x="337.56" y="165.71" width="3.5" height="3.5" fill="#000000"/>
<rect x="337.56" y="164.97" width="3.5" height="3.5" fill="#000000"/>
<rect x="337.56" y="164.23" width="3.5" height="3.5" fill="#000000"/>
<rect x="337.56" y="163.49" width="3.5" height="3.5" fill="#000000"/>
<rect x="337.56" y="162.75" width="3.5" height="3.5" fill="#000000"/>
<rect x="337.56" y="162" width="3.5" height="3.5" fill="#000000"/>
<rect x="337.56" y="161.26" width="3.5" height="3.5" fill="#000000"/>
<rect x="337.56" y="160.52" width="3.5" height="3.5" fill="#000000"/>
<rect x="337.56" y="159.63" width="3.5" height="3.5" fill="#000000"/>
<rect x="337.56" y="158.89" width="3.5" height="3.5" fill="#000000"/>
<rect x="337.56" y="158.45" width="3.5" height="3.5" fill="#000000"/>
<rect x="337.56" y="158.15" width="3.5" height="3.5" fill="#000000"/>
<rect x="337.56" y="157.71" width="3.5" height="3.5" fill="#000000"/>
<rect x="337.56" y="157.26" width="3.5" height="3.5" fill="#000000"/>
<rect x="337.57" y="155.34" width="3.5" height="3.5" fill="#000000"/>
<rect x="337.57" y="154.15" width="3.5" height="3.5" fill="#000000"/>
<rect x="337.58" y="153.41" width="3.5" height="3.5" fill="#000000"/>
<rect x="337.58" y="152.96" width="3.5" height="3.5" fill="#000000"/>
<rect x="337.58" y="152.52" width="3.5" height="3.5" fill="#000000"/>
<rect x="337.59" y="151.93" width="3.5" height="3.5" fill="#000000"/>
<rect x="337.59" y="151.33" width="3.5" height="3.5" fill="#000000"/>
<rect x="337.6" y="150.59" width="3.5" height="3.5" fill="#000000"/>
<rect x="337.6" y="149.85" width="3.5" height="3.5" fill="#000000"/>
<rect x="337.64" y="147.78" width="3.5" height="3.5" fill="#000000"/>
<rect x="337.68" y="145.41" width="3.5" height="3.5" fill="#000000"/>
<rect x="337.72" y="143.48" width="3.5" height="3.5" fill="#000000"/>
<rect x="337.76" y="141.11" width="3.5" height="3.5" fill="#000000"/>
<rect x="337.79" y="138.74" width="3.5" height="3.5" fill="#000000"/>
<rect x="337.83" y="136.81" width="3.5" height="3.5" fill="#000000"/>
<rect x="337.87" y="135.18" width="3.5" height="3.5" fill="#000000"/>
<rect x="337.91" y="133.85" width="3.5" height="3.5" fill="#000000"/>
<rect x="337.95" y="132.81" width="3.5" height="3.5" fill="#000000"/>
<rect x="338.34" y="120.21" width="3.5" height="3.5" fill="#000000"/>
<rect x="338.73" y="109.99" width="3.5" height="3.5" fill="#000000"/>
<rect x="339.12" y="102.58" width="3.5" height="3.5" fill="#000000"/>
<rect x="339.51" y="96.95" width="3.5" height="3.5" fill="#000000"/>
<rect x="339.9" y="92.21" width="3.5" height="3.5" fill="#000000"/>
<rect x="340.3" y="88.8" width="3.5" height="3.5" fill="#000000"/>
<rect x="340.69" y="85.24" width="3.5" height="3.5" fill="#000000"/>
<rect x="341.08" y="81.98" width="3.5" height="3.5" fill="#000000"/>
<rect x="341.47" y="79.46" width="3.5" height="3.5" fill="#000000"/>
<rect x="345.37" y="65.68" width="3.5" height="3.5" fill="#000000"/>
<rect x="349.28" y="60.35" width="3.5" height="3.5" fill="#000000"/>
<rect x="353.19" y="56.2" width="3.5" height="3.5" fill="#000000"/>
<rect x="357.1" y="54.86" width="3.5" height="3.5" fill="#000000"/>
<rect x="361" y="53.08" width="3.5" height="3.5" fill="#000000"/>
<rect x="364.91" y="52.05" width="3.5" height="3.5" fill="#000000"/>
<rect x="368.82" y="51.9" width="3.5" height="3.5" fill="#000000"/>
<rect x="372.73" y="51.9" width="3.5" height="3.5" fill="#000000"/>
<rect x="376.63" y="52.05" width="3.5" height="3.5" fill="#000000"/>
<rect x="415.71" y="53.38" width="3.5" height="3.5" fill="#000000"/>
<rect x="454.78" y="56.64" width="3.5" height="3.5" fill="#000000"/>
<rect x="493.86" y="59.9" width="3.5" height="3.5" fill="#000000"/>
<rect x="532.93" y="63.16" width="3.5" height="3.5" fill="#000000"/>
<polyline fill="none" stroke="#ff0000" stroke-width="1.0" stroke-opacity="0.6" points="339.31,167.9 339.31,167.01 339.31,165.98 339.31,164.94 339.31,163.9 339.31,162.87 339.31,161.83 339.31,160.79 339.31,159.9 339.31,159.01 339.31,158.27 339.31,157.53 339.31,157.09 339.31,156.64 339.31,156.2 339.32,154.71 339.32,153.68 339.33,152.79 339.33,152.34 339.33,151.6 339.34,151.16 339.34,150.42 339.35,149.53 339.35,148.79 339.39,144.79 339.43,141.67 339.47,140.04 339.51,137.67 339.54,135.3 339.58,132.93 339.62,130.56 339.66,128.93 339.7,127.6 340.09,113.81 340.48,103.59 340.87,95.29 341.26,89.51 341.65,84.92 342.05,80.77 342.44,76.77 342.83,73.95 343.22,72.02 347.12,57.95 351.03,52.46 354.94,49.06 358.85,46.98 362.75,45.65 366.66,45.05 370.57,44.61 374.48,44.16 378.38,44.16 417.46,44.91 456.53,47.57 495.61,51.28 534.68,53.95"/>
<circle cx="339.31" cy="167.9" r="2.1" fill="#ff0000"/>
<circle cx="339.31" cy="167.01" r="2.1" fill="#ff0000"/>
<circle cx="339.31" cy="165.98" r="2.1" fill="#ff0000"/>
<circle cx="339.31" cy="164.94" r="2.1" fill="#ff0000"/>
<circle cx="339.31" cy="163.9" r="2.1" fill="#ff0000"/>
<circle cx="339.31" cy="162.87" r="2.1" fill="#ff0000"/>
<circle cx="339.31" cy="161.83" r="2.1" fill="#ff0000"/>
<circle cx="339.31" cy="160.79" r="2.1" fill="#ff0000"/>
<circle cx="339.31" cy="159.9" r="2.1" fill="#ff0000"/>
<circle cx="339.31" cy="159.01" r="2.1" fill="#ff0000"/>
<circle cx="339.31" cy="158.27" r="2.1" fill="#ff0000"/>
<circle cx="339.31" cy="157.53" r="2.1" fill="#ff0000"/>
<circle cx="339.31" cy="157.09" r="2.1" fill="#ff0000"/>
<circle cx="339.31" cy="156.64" r="2.1" fill="#ff0000"/>
<circle cx="339.31" cy="156.2" r="2.1" fill="#ff0000"/>
<circle cx="339.32" cy="154.71" r="2.1" fill="#ff0000"/>
<circle cx="339.32" cy="153.68" r="2.1" fill="#ff0000"/>
<circle cx="339.33" cy="152.79" r="2.1" fill="#ff0000"/>
<circle cx="339.33" cy="152.34" r="2.1" fill="#ff0000"/>
<circle cx="339.33" cy="151.6" r="2.1" fill="#ff0000"/>
<circle cx="339.34" cy="151.16" r="2.1" fill="#ff0000"/>
<circle cx="339.34" cy="150.42" r="2.1" fill="#ff0000"/>
<circle cx="339.35" cy="149.53" r="2.1" fill="#ff0000"/>
<circle cx="339.35" cy="148.79" r="2.1" fill="#ff0000"/>
<circle cx="339.39" cy="144.79" r="2.1" fill="#ff0000"/>
<circle cx="339.43" cy="141.67" r="2.1" fill="#ff0000"/>
<circle cx="339.47" cy="140.04" r="2.1" fill="#ff0000"/>
<circle cx="339.51" cy="137.67" r="2.1" fill="#ff0000"/>
<circle cx="339.54" cy="135.3" r="2.1" fill="#ff0000"/>
<circle cx="339.58" cy="132.93" r="2.1" fill="#ff0000"/>
<circle cx="339.62" cy="130.56" r="2.1" fill="#ff0000"/>
<circle cx="339.66" cy="128.93" r="2.1" fill="#ff0000"/>
<circle cx="339.7" cy="127.6" r="2.1" fill="#ff0000"/>
<circle cx="340.09" cy="113.81" r="2.1" fill="#ff0000"/>
<circle cx="340.48" cy="103.59" r="2.1" fill="#ff0000"/>
<circle cx="340.87" cy="95.29" r="2.1" fill="#ff0000"/>
<circle cx="341.26" cy="89.51" r="2.1" fill="#ff0000"/>
<circle cx="341.65" cy="84.92" r="2.1" fill="#ff0000"/>
<circle cx="342.05" cy="80.77" r="2.1" fill="#ff0000"/>
<circle cx="342.44" cy="76.77" r="2.1" fill="#ff0000"/>
<circle cx="342.83" cy="73.95" r="2.1" fill="#ff0000"/>
<circle cx="343.22" cy="72.02" r="2.1" fill="#ff0000"/>
<circle cx="347.12" cy="57.95" r="2.1" fill="#ff0000"/>
<circle cx="351.03" cy="52.46" r="2.1" fill="#ff0000"/>
<circle cx="354.94" cy="49.06" r="2.1" fill="#ff0000"/>
<circle cx="358.85" cy="46.98" r="2.1" fill="#ff0000"/>
<circle cx="362.75" cy="45.65" r="2.1" fill="#ff0000"/>
<circle cx="366.66" cy="45.05" r="2.1" fill="#ff0000"/>
<circle cx="370.57" cy="44.61" r="2.1" fill="#ff0000"/>
<circle cx="374.48" cy="44.16" r="2.1" fill="#ff0000"/>
<circle cx="378.38" cy="44.16" r="2.1" fill="#ff0000"/>
<circle cx="417.46" cy="44.91" r="2.1" fill="#ff0000"/>
<circle cx="456.53" cy="47.57" r="2.1" fill="#ff0000"/>
<circle cx="495.61" cy="51.28" r="2.1" fill="#ff0000"/>
<circle cx="534.68" cy="53.95" r="2.1" fill="#ff0000"/>
<polyline fill="none" stroke="#0000ff" stroke-width="1.0" stroke-opacity="0.6" points="339.31,167.46 339.31,165.98 339.31,164.5 339.31,163.01 339.31,161.53 339.31,160.05 339.31,158.57 339.31,157.09 339.31,155.9 339.31,154.71 339.31,152.79 339.31,151.16 339.31,150.42 339.31,149.97 339.31,149.53 339.31,149.08 339.32,145.68 339.32,143.45 339.33,141.67 339.33,140.93 339.33,140.04 339.34,139.3 339.34,138.12 339.35,137.52 339.35,136.34 339.39,132.93 339.43,128.63 339.47,125.82 339.51,122.71 339.54,119.74 339.58,117.37 339.62,115.59 339.66,114.56 339.7,113.37 340.09,98.7 340.48,89.07 340.87,82.99 341.26,78.1 341.65,75.14 342.05,72.62 342.44,69.95 342.83,67.13 343.22,64.47 347.12,53.35 351.03,47.43 354.94,44.46 358.85,42.53 362.75,41.5 366.66,40.61 370.57,40.31 374.48,39.87 378.38,39.42 417.46,41.35 456.53,44.02 495.61,47.43 534.68,50.09"/>
<path d="M339.31 164.51 L336.76 168.93 L341.86 168.93 Z" fill="#0000ff"/>
<path d="M339.31 163.03 L336.76 167.45 L341.86 167.45 Z" fill="#0000ff"/>
<path d="M339.31 161.55 L336.76 165.97 L341.86 165.97 Z" fill="#0000ff"/>
<path d="M339.31 160.07 L336.76 164.49 L341.86 164.49 Z" fill="#0000ff"/>
<path d="M339.31 158.59 L336.76 163 L341.86 163 Z" fill="#0000ff"/>
<path d="M339.31 157.11 L336.76 161.52 L341.86 161.52 Z" fill="#0000ff"/>
<path d="M339.31 155.62 L336.76 160.04 L341.86 160.04 Z" fill="#0000ff"/>
<path d="M339.31 154.14 L336.76 158.56 L341.86 158.56 Z" fill="#0000ff"/>
<path d="M339.31 152.96 L336.76 157.37 L341.86 157.37 Z" fill="#0000ff"/>
<path d="M339.31 151.77 L336.76 156.19 L341.86 156.19 Z" fill="#0000ff"/>
<path d="M339.31 149.84 L336.76 154.26 L341.86 154.26 Z" fill="#0000ff"/>
<path d="M339.31 148.21 L336.76 152.63 L341.86 152.63 Z" fill="#0000ff"/>
<path d="M339.31 147.47 L336.76 151.89 L341.86 151.89 Z" fill="#0000ff"/>
<path d="M339.31 147.03 L336.76 151.44 L341.86 151.44 Z" fill="#0000ff"/>
<path d="M339.31 146.58 L336.76 151 L341.86 151 Z" fill="#0000ff"/>
<path d="M339.31 146.14 L336.76 150.56 L341.86 150.56 Z" fill="#0000ff"/>
<path d="M339.32 142.73 L336.77 147.15 L341.87 147.15 Z" fill="#0000ff"/>
<path d="M339.32 140.51 L336.77 144.92 L341.87 144.92 Z" fill="#0000ff"/>
<path d="M339.33 138.73 L336.78 143.15 L341.88 143.15 Z" fill="#0000ff"/>
<path d="M339.33 137.99 L336.78 142.41 L341.88 142.41 Z" fill="#0000ff"/>
<path d="M339.33 137.1 L336.78 141.52 L341.88 141.52 Z" fill="#0000ff"/>
<path d="M339.34 136.36 L336.79 140.78 L341.89 140.78 Z" fill="#0000ff"/>
<path d="M339.34 135.17 L336.79 139.59 L341.89 139.59 Z" fill="#0000ff"/>
<path d="M339.35 134.58 L336.8 139 L341.9 139 Z" fill="#0000ff"/>
<path d="M339.35 133.39 L336.8 137.81 L341.9 137.81 Z" fill="#0000ff"/>
<path d="M339.39 129.99 L336.84 134.4 L341.94 134.4 Z" fill="#0000ff"/>
<path d="M339.43 125.69 L336.88 130.11 L341.98 130.11 Z" fill="#0000ff"/>
<path d="M339.47 122.87 L336.92 127.29 L342.02 127.29 Z" fill="#0000ff"/>
<path d="M339.51 119.76 L336.96 124.18 L342.06 124.18 Z" fill="#0000ff"/>
<path d="M339.54 116.8 L336.99 121.21 L342.09 121.21 Z" fill="#0000ff"/>
<path d="M339.58 114.43 L337.03 118.84 L342.13 118.84 Z" fill="#0000ff"/>
<path d="M339.62 112.65 L337.07 117.06 L342.17 117.06 Z" fill="#0000ff"/>
<path d="M339.66 111.61 L337.11 116.03 L342.21 116.03 Z" fill="#0000ff"/>
<path d="M339.7 110.43 L337.15 114.84 L342.25 114.84 Z" fill="#0000ff"/>
<path d="M340.09 95.75 L337.54 100.17 L342.64 100.17 Z" fill="#0000ff"/>
<path d="M340.48 86.12 L337.93 90.54 L343.03 90.54 Z" fill="#0000ff"/>
<path d="M340.87 80.05 L338.32 84.46 L343.42 84.46 Z" fill="#0000ff"/>
<path d="M341.26 75.16 L338.71 79.57 L343.81 79.57 Z" fill="#0000ff"/>
<path d="M341.65 72.19 L339.1 76.61 L344.2 76.61 Z" fill="#0000ff"/>
<path d="M342.05 69.67 L339.5 74.09 L344.6 74.09 Z" fill="#0000ff"/>
<path d="M342.44 67.01 L339.89 71.42 L344.99 71.42 Z" fill="#0000ff"/>
<path d="M342.83 64.19 L340.28 68.61 L345.38 68.61 Z" fill="#0000ff"/>
<path d="M343.22 61.52 L340.67 65.94 L345.77 65.94 Z" fill="#0000ff"/>
<path d="M347.12 50.41 L344.57 54.82 L349.67 54.82 Z" fill="#0000ff"/>
<path d="M351.03 44.48 L348.48 48.9 L353.58 48.9 Z" fill="#0000ff"/>
<path d="M354.94 41.52 L352.39 45.93 L357.49 45.93 Z" fill="#0000ff"/>
<path d="M358.85 39.59 L356.3 44.01 L361.4 44.01 Z" fill="#0000ff"/>
<path d="M362.75 38.55 L360.2 42.97 L365.3 42.97 Z" fill="#0000ff"/>
<path d="M366.66 37.66 L364.11 42.08 L369.21 42.08 Z" fill="#0000ff"/>
<path d="M370.57 37.37 L368.02 41.78 L373.12 41.78 Z" fill="#0000ff"/>
<path d="M374.48 36.92 L371.93 41.34 L377.03 41.34 Z" fill="#0000ff"/>
<path d="M378.38 36.48 L375.83 40.9 L380.93 40.9 Z" fill="#0000ff"/>
<path d="M417.46 38.4 L414.91 42.82 L420.01 42.82 Z" fill="#0000ff"/>
<path d="M456.53 41.07 L453.98 45.49 L459.08 45.49 Z" fill="#0000ff"/>
<path d="M495.61 44.48 L493.06 48.9 L498.16 48.9 Z" fill="#0000ff"/>
<path d="M534.68 47.15 L532.13 51.56 L537.23 51.56 Z" fill="#0000ff"/>
<polyline fill="none" stroke="#008080" stroke-width="1.0" stroke-opacity="0.6" points="339.31,153.38 339.31,150.42 339.31,147.45 339.31,144.49 339.31,141.53 339.31,138.56 339.31,135.6 339.31,132.63 339.31,129.67 339.31,126.71 339.31,123.74 339.31,120.78 339.31,118.56 339.31,116.78 339.31,115.74 339.31,114.56 339.31,113.81 339.31,112.78 339.31,112.04 339.31,111.44 339.32,103.89 339.32,100.77 339.33,98.25 339.33,96.77 339.33,95.59 339.34,93.66 339.34,92.03 339.35,90.25 339.35,89.36 339.39,82.84 339.43,78.55 339.47,74.99 339.51,72.62 339.54,70.39 339.58,68.47 339.62,66.99 339.66,65.65 339.7,64.76 340.09,57.06 340.48,49.5 340.87,45.65 341.26,42.53 341.65,40.61 342.05,38.53 342.44,37.05 342.83,35.87 343.22,35.13 347.12,32.01 351.03,31.27 354.94,31.42 358.85,32.61 362.75,33.94 366.66,34.68 370.57,36.01 374.48,36.76 378.38,37.94 417.46,46.09 456.53,52.32 495.61,54.39 534.68,56.61"/>
<path d="M339.31 156.33 L336.76 151.91 L341.86 151.91 Z" fill="#008080"/>
<path d="M339.31 153.36 L336.76 148.94 L341.86 148.94 Z" fill="#008080"/>
<path d="M339.31 150.4 L336.76 145.98 L341.86 145.98 Z" fill="#008080"/>
<path d="M339.31 147.43 L336.76 143.02 L341.86 143.02 Z" fill="#008080"/>
<path d="M339.31 144.47 L336.76 140.05 L341.86 140.05 Z" fill="#008080"/>
<path d="M339.31 141.51 L336.76 137.09 L341.86 137.09 Z" fill="#008080"/>
<path d="M339.31 138.54 L336.76 134.13 L341.86 134.13 Z" fill="#008080"/>
<path d="M339.31 135.58 L336.76 131.16 L341.86 131.16 Z" fill="#008080"/>
<path d="M339.31 132.61 L336.76 128.2 L341.86 128.2 Z" fill="#008080"/>
<path d="M339.31 129.65 L336.76 125.23 L341.86 125.23 Z" fill="#008080"/>
<path d="M339.31 126.69 L336.76 122.27 L341.86 122.27 Z" fill="#008080"/>
<path d="M339.31 123.72 L336.76 119.31 L341.86 119.31 Z" fill="#008080"/>
<path d="M339.31 121.5 L336.76 117.08 L341.86 117.08 Z" fill="#008080"/>
<path d="M339.31 119.72 L336.76 115.31 L341.86 115.31 Z" fill="#008080"/>
<path d="M339.31 118.69 L336.76 114.27 L341.86 114.27 Z" fill="#008080"/>
<path d="M339.31 117.5 L336.76 113.08 L341.86 113.08 Z" fill="#008080"/>
<path d="M339.31 116.76 L336.76 112.34 L341.86 112.34 Z" fill="#008080"/>
<path d="M339.31 115.72 L336.76 111.3 L341.86 111.3 Z" fill="#008080"/>
<path d="M339.31 114.98 L336.76 110.56 L341.86 110.56 Z" fill="#008080"/>
<path d="M339.31 114.39 L336.76 109.97 L341.86 109.97 Z" fill="#008080"/>
<path d="M339.32 106.83 L336.77 102.41 L341.87 102.41 Z" fill="#008080"/>
<path d="M339.32 103.72 L336.77 99.3 L341.87 99.3 Z" fill="#008080"/>
<path d="M339.33 101.2 L336.78 96.78 L341.88 96.78 Z" fill="#008080"/>
<path d="M339.33 99.72 L336.78 95.3 L341.88 95.3 Z" fill="#008080"/>
<path d="M339.33 98.53 L336.78 94.11 L341.88 94.11 Z" fill="#008080"/>
<path d="M339.34 96.6 L336.79 92.19 L341.89 92.19 Z" fill="#008080"/>
<path d="M339.34 94.97 L336.79 90.56 L341.89 90.56 Z" fill="#008080"/>
<path d="M339.35 93.2 L336.8 88.78 L341.9 88.78 Z" fill="#008080"/>
<path d="M339.35 92.31 L336.8 87.89 L341.9 87.89 Z" fill="#008080"/>
<path d="M339.39 85.79 L336.84 81.37 L341.94 81.37 Z" fill="#008080"/>
<path d="M339.43 81.49 L336.88 77.07 L341.98 77.07 Z" fill="#008080"/>
<path d="M339.47 77.93 L336.92 73.52 L342.02 73.52 Z" fill="#008080"/>
<path d="M339.51 75.56 L336.96 71.15 L342.06 71.15 Z" fill="#008080"/>
<path d="M339.54 73.34 L336.99 68.92 L342.09 68.92 Z" fill="#008080"/>
<path d="M339.58 71.41 L337.03 67 L342.13 67 Z" fill="#008080"/>
<path d="M339.62 69.93 L337.07 65.51 L342.17 65.51 Z" fill="#008080"/>
<path d="M339.66 68.6 L337.11 64.18 L342.21 64.18 Z" fill="#008080"/>
<path d="M339.7 67.71 L337.15 63.29 L342.25 63.29 Z" fill="#008080"/>
<path d="M340.09 60 L337.54 55.59 L342.64 55.59 Z" fill="#008080"/>
<path d="M340.48 52.44 L337.93 48.03 L343.03 48.03 Z" fill="#008080"/>
<path d="M340.87 48.59 L338.32 44.17 L343.42 44.17 Z" fill="#008080"/>
<path d="M341.26 45.48 L338.71 41.06 L343.81 41.06 Z" fill="#008080"/>
<path d="M341.65 43.55 L339.1 39.14 L344.2 39.14 Z" fill="#008080"/>
<path d="M342.05 41.48 L339.5 37.06 L344.6 37.06 Z" fill="#008080"/>
<path d="M342.44 40 L339.89 35.58 L344.99 35.58 Z" fill="#008080"/>
<path d="M342.83 38.81 L340.28 34.39 L345.38 34.39 Z" fill="#008080"/>
<path d="M343.22 38.07 L340.67 33.65 L345.77 33.65 Z" fill="#008080"/>
<path d="M347.12 34.96 L344.57 30.54 L349.67 30.54 Z" fill="#008080"/>
<path d="M351.03 34.22 L348.48 29.8 L353.58 29.8 Z" fill="#008080"/>
<path d="M354.94 34.37 L352.39 29.95 L357.49 29.95 Z" fill="#008080"/>
<path d="M358.85 35.55 L356.3 31.13 L361.4 31.13 Z" fill="#008080"/>
<path d="M362.75 36.88 L360.2 32.47 L365.3 32.47 Z" fill="#008080"/>
<path d="M366.66 37.63 L364.11 33.21 L369.21 33.21 Z" fill="#008080"/>
<path d="M370.57 38.96 L368.02 34.54 L373.12 34.54 Z" fill="#008080"/>
<path d="M374.48 39.7 L371.93 35.28 L377.03 35.28 Z" fill="#008080"/>
<path d="M378.38 40.89 L375.83 36.47 L380.93 36.47 Z" fill="#008080"/>
<path d="M417.46 49.04 L414.91 44.62 L420.01 44.62 Z" fill="#008080"/>
<path d="M456.53 55.26 L453.98 50.84 L459.08 50.84 Z" fill="#008080"/>
<path d="M495.61 57.33 L493.06 52.92 L498.16 52.92 Z" fill="#008080"/>
<path d="M534.68 59.56 L532.13 55.14 L537.23 55.14 Z" fill="#008080"/>
<polyline fill="none" stroke="#ff00ff" stroke-width="1.0" stroke-opacity="0.6" points="339.31,83.73 339.31,80.77 339.31,77.8 339.31,74.84 339.31,71.88 339.31,68.91 339.31,65.95 339.31,62.99 339.31,60.02 339.31,57.06 339.31,54.09 339.31,51.87 339.31,49.65 339.31,47.43 339.31,45.2 339.31,43.57 339.31,41.65 339.31,39.87 339.31,38.53 339.31,37.5 339.31,36.46 339.31,35.42 339.32,32.31 339.32,30.24 339.33,28.9 339.33,27.86 339.33,26.68 339.34,25.94 339.34,25.49 339.35,25.64 339.35,25.79 339.39,23.42 339.43,22.97 339.47,21.2 339.51,21.64 339.54,21.94 339.58,22.23 339.62,22.68 339.66,23.27 339.7,23.86 340.09,26.09 340.48,29.2 340.87,31.42 341.26,33.35 341.65,35.13 342.05,36.46 342.44,37.94 342.83,39.13 343.22,40.02 347.12,45.65 351.03,49.65 354.94,52.46 358.85,54.69 362.75,56.61 366.66,58.09 370.57,59.13 374.48,60.02 378.38,60.61 417.46,68.91 456.53,74.4 495.61,81.36 534.68,84.77"/>
<path d="M336.37 83.73 L340.78 81.18 L340.78 86.28 Z" fill="#ff00ff"/>
<path d="M336.37 80.77 L340.78 78.22 L340.78 83.32 Z" fill="#ff00ff"/>
<path d="M336.37 77.8 L340.78 75.25 L340.78 80.35 Z" fill="#ff00ff"/>
<path d="M336.37 74.84 L340.78 72.29 L340.78 77.39 Z" fill="#ff00ff"/>
<path d="M336.37 71.88 L340.78 69.33 L340.78 74.43 Z" fill="#ff00ff"/>
<path d="M336.37 68.91 L340.78 66.36 L340.78 71.46 Z" fill="#ff00ff"/>
<path d="M336.37 65.95 L340.78 63.4 L340.78 68.5 Z" fill="#ff00ff"/>
<path d="M336.37 62.99 L340.78 60.44 L340.78 65.54 Z" fill="#ff00ff"/>
<path d="M336.37 60.02 L340.78 57.47 L340.78 62.57 Z" fill="#ff00ff"/>
<path d="M336.37 57.06 L340.78 54.51 L340.78 59.61 Z" fill="#ff00ff"/>
<path d="M336.37 54.09 L340.78 51.54 L340.78 56.64 Z" fill="#ff00ff"/>
<path d="M336.37 51.87 L340.78 49.32 L340.78 54.42 Z" fill="#ff00ff"/>
<path d="M336.37 49.65 L340.78 47.1 L340.78 52.2 Z" fill="#ff00ff"/>
<path d="M336.37 47.43 L340.78 44.88 L340.78 49.98 Z" fill="#ff00ff"/>
<path d="M336.37 45.2 L340.78 42.65 L340.78 47.75 Z" fill="#ff00ff"/>
<path d="M336.37 43.57 L340.78 41.02 L340.78 46.12 Z" fill="#ff00ff"/>
<path d="M336.37 41.65 L340.78 39.1 L340.78 44.2 Z" fill="#ff00ff"/>
<path d="M336.37 39.87 L340.78 37.32 L340.78 42.42 Z" fill="#ff00ff"/>
<path d="M336.37 38.53 L340.78 35.98 L340.78 41.08 Z" fill="#ff00ff"/>
<path d="M336.37 37.5 L340.79 34.95 L340.79 40.05 Z" fill="#ff00ff"/>
<path d="M336.37 36.46 L340.79 33.91 L340.79 39.01 Z" fill="#ff00ff"/>
<path d="M336.37 35.42 L340.79 32.87 L340.79 37.97 Z" fill="#ff00ff"/>
<path d="M336.37 32.31 L340.79 29.76 L340.79 34.86 Z" fill="#ff00ff"/>
<path d="M336.38 30.24 L340.79 27.69 L340.79 32.79 Z" fill="#ff00ff"/>
<path d="M336.38 28.9 L340.8 26.35 L340.8 31.45 Z" fill="#ff00ff"/>
<path d="M336.39 27.86 L340.8 25.31 L340.8 30.41 Z" fill="#ff00ff"/>
<path d="M336.39 26.68 L340.81 24.13 L340.81 29.23 Z" fill="#ff00ff"/>
<path d="M336.39 25.94 L340.81 23.39 L340.81 28.49 Z" fill="#ff00ff"/>
<path d="M336.4 25.49 L340.81 22.94 L340.81 28.04 Z" fill="#ff00ff"/>
<path d="M336.4 25.64 L340.82 23.09 L340.82 28.19 Z" fill="#ff00ff"/>
<path d="M336.4 25.79 L340.82 23.24 L340.82 28.34 Z" fill="#ff00ff"/>
<path d="M336.44 23.42 L340.86 20.87 L340.86 25.97 Z" fill="#ff00ff"/>
<path d="M336.48 22.97 L340.9 20.42 L340.9 25.52 Z" fill="#ff00ff"/>
<path d="M336.52 21.2 L340.94 18.65 L340.94 23.75 Z" fill="#ff00ff"/>
<path d="M336.56 21.64 L340.98 19.09 L340.98 24.19 Z" fill="#ff00ff"/>
<path d="M336.6 21.94 L341.02 19.39 L341.02 24.49 Z" fill="#ff00ff"/>
<path d="M336.64 22.23 L341.06 19.68 L341.06 24.78 Z" fill="#ff00ff"/>
<path d="M336.68 22.68 L341.09 20.13 L341.09 25.23 Z" fill="#ff00ff"/>
<path d="M336.72 23.27 L341.13 20.72 L341.13 25.82 Z" fill="#ff00ff"/>
<path d="M336.76 23.86 L341.17 21.31 L341.17 26.41 Z" fill="#ff00ff"/>
<path d="M337.15 26.09 L341.56 23.54 L341.56 28.64 Z" fill="#ff00ff"/>
<path d="M337.54 29.2 L341.95 26.65 L341.95 31.75 Z" fill="#ff00ff"/>
<path d="M337.93 31.42 L342.35 28.87 L342.35 33.97 Z" fill="#ff00ff"/>
<path d="M338.32 33.35 L342.74 30.8 L342.74 35.9 Z" fill="#ff00ff"/>
<path d="M338.71 35.13 L343.13 32.58 L343.13 37.68 Z" fill="#ff00ff"/>
<path d="M339.1 36.46 L343.52 33.91 L343.52 39.01 Z" fill="#ff00ff"/>
<path d="M339.49 37.94 L343.91 35.39 L343.91 40.49 Z" fill="#ff00ff"/>
<path d="M339.88 39.13 L344.3 36.58 L344.3 41.68 Z" fill="#ff00ff"/>
<path d="M340.27 40.02 L344.69 37.47 L344.69 42.57 Z" fill="#ff00ff"/>
<path d="M344.18 45.65 L348.6 43.1 L348.6 48.2 Z" fill="#ff00ff"/>
<path d="M348.09 49.65 L352.5 47.1 L352.5 52.2 Z" fill="#ff00ff"/>
<path d="M352 52.46 L356.41 49.91 L356.41 55.01 Z" fill="#ff00ff"/>
<path d="M355.9 54.69 L360.32 52.14 L360.32 57.24 Z" fill="#ff00ff"/>
<path d="M359.81 56.61 L364.23 54.06 L364.23 59.16 Z" fill="#ff00ff"/>
<path d="M363.72 58.09 L368.13 55.54 L368.13 60.64 Z" fill="#ff00ff"/>
<path d="M367.62 59.13 L372.04 56.58 L372.04 61.68 Z" fill="#ff00ff"/>
<path d="M371.53 60.02 L375.95 57.47 L375.95 62.57 Z" fill="#ff00ff"/>
<path d="M375.44 60.61 L379.86 58.06 L379.86 63.16 Z" fill="#ff00ff"/>
<path d="M414.51 68.91 L418.93 66.36 L418.93 71.46 Z" fill="#ff00ff"/>
<path d="M453.59 74.4 L458 71.85 L458 76.95 Z" fill="#ff00ff"/>
<path d="M492.66 81.36 L497.08 78.81 L497.08 83.91 Z" fill="#ff00ff"/>
<path d="M531.74 84.77 L536.15 82.22 L536.15 87.32 Z" fill="#ff00ff"/>
<polyline fill="none" stroke="#808000" stroke-width="1.0" stroke-opacity="0.6" points="339.31,76.32 339.31,71.88 339.31,67.43 339.31,62.99 339.31,58.54 339.31,54.09 339.31,49.65 339.31,45.2 339.31,40.76 339.31,36.31 339.31,31.87 339.31,30.38 339.31,28.31 339.31,24.16 339.31,22.68 339.31,21.94 339.31,21.49 339.31,21.05 339.32,21.05 339.32,20.75 339.33,20.75 339.33,20.01 339.33,20.01 339.34,20.01 339.34,20.01 339.35,20.01 339.35,20.01 339.39,20.6 339.43,20.9 339.47,21.2 339.51,23.27 339.54,24.46 339.58,26.38 339.62,28.31 339.66,29.49 339.7,30.83 340.09,39.72 340.48,45.35 340.87,48.76 341.26,51.87 341.65,54.39 342.05,56.46 342.44,58.09 342.83,59.72 343.22,61.21 347.12,68.32 351.03,74.4 354.94,77.36 358.85,80.47 362.75,82.84 366.66,84.62 370.57,86.25 374.48,87.44 378.38,89.21 417.46,100.03 456.53,108.78 495.61,114.41 534.68,116.33"/>
<path d="M342.25 76.32 L337.84 73.77 L337.84 78.87 Z" fill="#808000"/>
<path d="M342.25 71.88 L337.84 69.33 L337.84 74.43 Z" fill="#808000"/>
<path d="M342.25 67.43 L337.84 64.88 L337.84 69.98 Z" fill="#808000"/>
<path d="M342.25 62.99 L337.84 60.44 L337.84 65.54 Z" fill="#808000"/>
<path d="M342.25 58.54 L337.84 55.99 L337.84 61.09 Z" fill="#808000"/>
<path d="M342.25 54.09 L337.84 51.54 L337.84 56.64 Z" fill="#808000"/>
<path d="M342.25 49.65 L337.84 47.1 L337.84 52.2 Z" fill="#808000"/>
<path d="M342.25 45.2 L337.84 42.65 L337.84 47.75 Z" fill="#808000"/>
<path d="M342.25 40.76 L337.84 38.21 L337.84 43.31 Z" fill="#808000"/>
<path d="M342.25 36.31 L337.84 33.76 L337.84 38.86 Z" fill="#808000"/>
<path d="M342.26 31.87 L337.84 29.32 L337.84 34.42 Z" fill="#808000"/>
<path d="M342.26 30.38 L337.84 27.83 L337.84 32.93 Z" fill="#808000"/>
<path d="M342.26 28.31 L337.84 25.76 L337.84 30.86 Z" fill="#808000"/>
<path d="M342.26 24.16 L337.84 21.61 L337.84 26.71 Z" fill="#808000"/>
<path d="M342.26 22.68 L337.84 20.13 L337.84 25.23 Z" fill="#808000"/>
<path d="M342.26 21.94 L337.84 19.39 L337.84 24.49 Z" fill="#808000"/>
<path d="M342.26 21.49 L337.84 18.94 L337.84 24.04 Z" fill="#808000"/>
<path d="M342.26 21.05 L337.84 18.5 L337.84 23.6 Z" fill="#808000"/>
<path d="M342.26 21.05 L337.85 18.5 L337.85 23.6 Z" fill="#808000"/>
<path d="M342.27 20.75 L337.85 18.2 L337.85 23.3 Z" fill="#808000"/>
<path d="M342.27 20.75 L337.85 18.2 L337.85 23.3 Z" fill="#808000"/>
<path d="M342.27 20.01 L337.86 17.46 L337.86 22.56 Z" fill="#808000"/>
<path d="M342.28 20.01 L337.86 17.46 L337.86 22.56 Z" fill="#808000"/>
<path d="M342.28 20.01 L337.87 17.46 L337.87 22.56 Z" fill="#808000"/>
<path d="M342.29 20.01 L337.87 17.46 L337.87 22.56 Z" fill="#808000"/>
<path d="M342.29 20.01 L337.87 17.46 L337.87 22.56 Z" fill="#808000"/>
<path d="M342.29 20.01 L337.88 17.46 L337.88 22.56 Z" fill="#808000"/>
<path d="M342.33 20.6 L337.92 18.05 L337.92 23.15 Z" fill="#808000"/>
<path d="M342.37 20.9 L337.96 18.35 L337.96 23.45 Z" fill="#808000"/>
<path d="M342.41 21.2 L337.99 18.65 L337.99 23.75 Z" fill="#808000"/>
<path d="M342.45 23.27 L338.03 20.72 L338.03 25.82 Z" fill="#808000"/>
<path d="M342.49 24.46 L338.07 21.91 L338.07 27.01 Z" fill="#808000"/>
<path d="M342.53 26.38 L338.11 23.83 L338.11 28.93 Z" fill="#808000"/>
<path d="M342.57 28.31 L338.15 25.76 L338.15 30.86 Z" fill="#808000"/>
<path d="M342.61 29.49 L338.19 26.94 L338.19 32.04 Z" fill="#808000"/>
<path d="M342.65 30.83 L338.23 28.28 L338.23 33.38 Z" fill="#808000"/>
<path d="M343.04 39.72 L338.62 37.17 L338.62 42.27 Z" fill="#808000"/>
<path d="M343.43 45.35 L339.01 42.8 L339.01 47.9 Z" fill="#808000"/>
<path d="M343.82 48.76 L339.4 46.21 L339.4 51.31 Z" fill="#808000"/>
<path d="M344.21 51.87 L339.79 49.32 L339.79 54.42 Z" fill="#808000"/>
<path d="M344.6 54.39 L340.18 51.84 L340.18 56.94 Z" fill="#808000"/>
<path d="M344.99 56.46 L340.57 53.91 L340.57 59.01 Z" fill="#808000"/>
<path d="M345.38 58.09 L340.96 55.54 L340.96 60.64 Z" fill="#808000"/>
<path d="M345.77 59.72 L341.35 57.17 L341.35 62.27 Z" fill="#808000"/>
<path d="M346.16 61.21 L341.75 58.66 L341.75 63.76 Z" fill="#808000"/>
<path d="M350.07 68.32 L345.65 65.77 L345.65 70.87 Z" fill="#808000"/>
<path d="M353.98 74.4 L349.56 71.85 L349.56 76.95 Z" fill="#808000"/>
<path d="M357.88 77.36 L353.47 74.81 L353.47 79.91 Z" fill="#808000"/>
<path d="M361.79 80.47 L357.37 77.92 L357.37 83.02 Z" fill="#808000"/>
<path d="M365.7 82.84 L361.28 80.29 L361.28 85.39 Z" fill="#808000"/>
<path d="M369.61 84.62 L365.19 82.07 L365.19 87.17 Z" fill="#808000"/>
<path d="M373.51 86.25 L369.1 83.7 L369.1 88.8 Z" fill="#808000"/>
<path d="M377.42 87.44 L373 84.89 L373 89.99 Z" fill="#808000"/>
<path d="M381.33 89.21 L376.91 86.66 L376.91 91.76 Z" fill="#808000"/>
<path d="M420.4 100.03 L415.99 97.48 L415.99 102.58 Z" fill="#808000"/>
<path d="M459.48 108.78 L455.06 106.23 L455.06 111.33 Z" fill="#808000"/>
<path d="M498.55 114.41 L494.13 111.86 L494.13 116.96 Z" fill="#808000"/>
<path d="M537.62 116.33 L533.21 113.78 L533.21 118.88 Z" fill="#808000"/>
<rect x="331.5" y="12.6" width="211" height="155.6" fill="none" stroke="#3a3a3a" stroke-width="1.0"/>
<path d="M339.31 168.2v-3.4M339.31 12.6v3.4M378.38 168.2v-3.4M378.38 12.6v3.4M417.46 168.2v-3.4M417.46 12.6v3.4M456.53 168.2v-3.4M456.53 12.6v3.4M495.61 168.2v-3.4M495.61 12.6v3.4M534.68 168.2v-3.4M534.68 12.6v3.4M349.08 168.2v-1.9M349.08 12.6v1.9M358.85 168.2v-1.9M358.85 12.6v1.9M368.62 168.2v-1.9M368.62 12.6v1.9M388.15 168.2v-1.9M388.15 12.6v1.9M397.92 168.2v-1.9M397.92 12.6v1.9M407.69 168.2v-1.9M407.69 12.6v1.9M427.23 168.2v-1.9M427.23 12.6v1.9M437 168.2v-1.9M437 12.6v1.9M446.76 168.2v-1.9M446.76 12.6v1.9M466.3 168.2v-1.9M466.3 12.6v1.9M476.07 168.2v-1.9M476.07 12.6v1.9M485.84 168.2v-1.9M485.84 12.6v1.9M505.37 168.2v-1.9M505.37 12.6v1.9M515.14 168.2v-1.9M515.14 12.6v1.9M524.91 168.2v-1.9M524.91 12.6v1.9M331.5 160.79h1.9M542.5 160.79h-1.9M331.5 153.38h1.9M542.5 153.38h-1.9M331.5 145.97h1.9M542.5 145.97h-1.9M331.5 138.56h3.4M542.5 138.56h-3.4M331.5 131.15h1.9M542.5 131.15h-1.9M331.5 123.74h1.9M542.5 123.74h-1.9M331.5 116.33h1.9M542.5 116.33h-1.9M331.5 108.92h3.4M542.5 108.92h-3.4M331.5 101.51h1.9M542.5 101.51h-1.9M331.5 94.1h1.9M542.5 94.1h-1.9M331.5 86.7h1.9M542.5 86.7h-1.9M331.5 79.29h3.4M542.5 79.29h-3.4M331.5 71.88h1.9M542.5 71.88h-1.9M331.5 64.47h1.9M542.5 64.47h-1.9M331.5 57.06h1.9M542.5 57.06h-1.9M331.5 49.65h3.4M542.5 49.65h-3.4M331.5 42.24h1.9M542.5 42.24h-1.9M331.5 34.83h1.9M542.5 34.83h-1.9M331.5 27.42h1.9M542.5 27.42h-1.9M331.5 20.01h3.4M542.5 20.01h-3.4" stroke="#3a3a3a" stroke-width="1.0" fill="none"/>
<text transform="translate(327.8 170.83) scale(0.93 1)" text-anchor="end" font-size="9.3">0</text>
<text transform="translate(327.8 141.19) scale(0.93 1)" text-anchor="end" font-size="9.3">20</text>
<text transform="translate(327.8 111.55) scale(0.93 1)" text-anchor="end" font-size="9.3">40</text>
<text transform="translate(327.8 81.91) scale(0.93 1)" text-anchor="end" font-size="9.3">60</text>
<text transform="translate(327.8 52.28) scale(0.93 1)" text-anchor="end" font-size="9.3">80</text>
<text transform="translate(327.8 22.64) scale(0.93 1)" text-anchor="end" font-size="9.3">100</text>
<text transform="translate(339.31 178.5) scale(0.93 1)" text-anchor="middle" font-size="9.3">0</text>
<text transform="translate(378.38 178.5) scale(0.93 1)" text-anchor="middle" font-size="9.3">10</text>
<text transform="translate(417.46 178.5) scale(0.93 1)" text-anchor="middle" font-size="9.3">20</text>
<text transform="translate(456.53 178.5) scale(0.93 1)" text-anchor="middle" font-size="9.3">30</text>
<text transform="translate(495.61 178.5) scale(0.93 1)" text-anchor="middle" font-size="9.3">40</text>
<text transform="translate(534.68 178.5) scale(0.93 1)" text-anchor="middle" font-size="9.3">50</text>
<text x="437.3" y="192.3" text-anchor="middle" font-size="10.4">Current (mA)</text>
<text transform="translate(307 90.9) rotate(-90)" text-anchor="middle" font-size="10.6">IQE (%)</text>
<path d="M356.7 106.7H362.4M368 106.7H373.9" stroke="#000000" stroke-width="1.3" opacity="0.45"/>
<rect x="363.45" y="104.95" width="3.5" height="3.5" fill="#000000"/>
<text transform="translate(397.6 109.5) scale(0.89 1)" text-anchor="end" font-size="9.3">300 K</text>
<path d="M356.7 116.8H362.4M368 116.8H373.9" stroke="#ff0000" stroke-width="1.3" opacity="0.45"/>
<circle cx="365.2" cy="116.8" r="2.1" fill="#ff0000"/>
<text transform="translate(397.6 119.6) scale(0.89 1)" text-anchor="end" font-size="9.3">250 K</text>
<path d="M356.7 126.9H362.4M368 126.9H373.9" stroke="#0000ff" stroke-width="1.3" opacity="0.45"/>
<path d="M365.2 123.96 L362.65 128.37 L367.75 128.37 Z" fill="#0000ff"/>
<text transform="translate(397.6 129.7) scale(0.89 1)" text-anchor="end" font-size="9.3">200 K</text>
<path d="M356.7 137.1H362.4M368 137.1H373.9" stroke="#008080" stroke-width="1.3" opacity="0.45"/>
<path d="M365.2 140.04 L362.65 135.63 L367.75 135.63 Z" fill="#008080"/>
<text transform="translate(397.6 139.9) scale(0.89 1)" text-anchor="end" font-size="9.3">150 K</text>
<path d="M356.7 147.2H362.4M368 147.2H373.9" stroke="#ff00ff" stroke-width="1.3" opacity="0.45"/>
<path d="M362.26 147.2 L366.67 144.65 L366.67 149.75 Z" fill="#ff00ff"/>
<text transform="translate(397.6 150) scale(0.89 1)" text-anchor="end" font-size="9.3">100 K</text>
<path d="M356.7 157.4H362.4M368 157.4H373.9" stroke="#808000" stroke-width="1.3" opacity="0.45"/>
<path d="M368.14 157.4 L363.73 154.85 L363.73 159.95 Z" fill="#808000"/>
<text transform="translate(397.6 160.2) scale(0.89 1)" text-anchor="end" font-size="9.3">50 K</text>
<text x="286.8" y="18.6" font-size="15.4" font-weight="bold">(b)</text>
<clipPath id="c1"><rect x="50" y="202.6" width="209" height="156.8"/></clipPath>
<g clip-path="url(#c1)">
<polyline fill="none" stroke="#000000" stroke-width="1.0" stroke-opacity="0.6" points="50,351.64 54.5,351.34 58.18,349.59 61.3,349.15 63.99,348.71 66.37,348.56 68.5,347.83 82.5,343.29 90.69,340.06 96.5,336.55 101,333.91 104.68,331.57 107.8,329.52 110.49,327.17 112.87,324.68 115,322.19 129,309.01 137.19,300.37 143,295.1 147.5,290.85 151.18,287.92 154.3,285.43 156.99,283.82 159.37,282.94 161.5,282.35 175.5,280.3 183.69,278.69 189.5,276.2 194,274.59 197.68,273.71 200.8,273.27 203.49,272.98 205.87,272.98 208,272.98 222,277.37 230.19,281.62 236,286.01 240.5,289.09 244.18,292.17 247.3,294.8 249.99,297.29 252.37,298.76 254.5,300.81"/>
<rect x="48.25" y="349.89" width="3.5" height="3.5" fill="#000000"/>
<rect x="52.75" y="349.59" width="3.5" height="3.5" fill="#000000"/>
<rect x="56.43" y="347.84" width="3.5" height="3.5" fill="#000000"/>
<rect x="59.55" y="347.4" width="3.5" height="3.5" fill="#000000"/>
<rect x="62.24" y="346.96" width="3.5" height="3.5" fill="#000000"/>
<rect x="64.62" y="346.81" width="3.5" height="3.5" fill="#000000"/>
<rect x="66.75" y="346.08" width="3.5" height="3.5" fill="#000000"/>
<rect x="80.75" y="341.54" width="3.5" height="3.5" fill="#000000"/>
<rect x="88.94" y="338.31" width="3.5" height="3.5" fill="#000000"/>
<rect x="94.75" y="334.8" width="3.5" height="3.5" fill="#000000"/>
<rect x="99.25" y="332.16" width="3.5" height="3.5" fill="#000000"/>
<rect x="102.93" y="329.82" width="3.5" height="3.5" fill="#000000"/>
<rect x="106.05" y="327.77" width="3.5" height="3.5" fill="#000000"/>
<rect x="108.74" y="325.42" width="3.5" height="3.5" fill="#000000"/>
<rect x="111.12" y="322.93" width="3.5" height="3.5" fill="#000000"/>
<rect x="113.25" y="320.44" width="3.5" height="3.5" fill="#000000"/>
<rect x="127.25" y="307.26" width="3.5" height="3.5" fill="#000000"/>
<rect x="135.44" y="298.62" width="3.5" height="3.5" fill="#000000"/>
<rect x="141.25" y="293.35" width="3.5" height="3.5" fill="#000000"/>
<rect x="145.75" y="289.1" width="3.5" height="3.5" fill="#000000"/>
<rect x="149.43" y="286.17" width="3.5" height="3.5" fill="#000000"/>
<rect x="152.55" y="283.68" width="3.5" height="3.5" fill="#000000"/>
<rect x="155.24" y="282.07" width="3.5" height="3.5" fill="#000000"/>
<rect x="157.62" y="281.19" width="3.5" height="3.5" fill="#000000"/>
<rect x="159.75" y="280.6" width="3.5" height="3.5" fill="#000000"/>
<rect x="173.75" y="278.55" width="3.5" height="3.5" fill="#000000"/>
<rect x="181.94" y="276.94" width="3.5" height="3.5" fill="#000000"/>
<rect x="187.75" y="274.45" width="3.5" height="3.5" fill="#000000"/>
<rect x="192.25" y="272.84" width="3.5" height="3.5" fill="#000000"/>
<rect x="195.93" y="271.96" width="3.5" height="3.5" fill="#000000"/>
<rect x="199.05" y="271.52" width="3.5" height="3.5" fill="#000000"/>
<rect x="201.74" y="271.23" width="3.5" height="3.5" fill="#000000"/>
<rect x="204.12" y="271.23" width="3.5" height="3.5" fill="#000000"/>
<rect x="206.25" y="271.23" width="3.5" height="3.5" fill="#000000"/>
<rect x="220.25" y="275.62" width="3.5" height="3.5" fill="#000000"/>
<rect x="228.44" y="279.87" width="3.5" height="3.5" fill="#000000"/>
<rect x="234.25" y="284.26" width="3.5" height="3.5" fill="#000000"/>
<rect x="238.75" y="287.34" width="3.5" height="3.5" fill="#000000"/>
<rect x="242.43" y="290.42" width="3.5" height="3.5" fill="#000000"/>
<rect x="245.55" y="293.05" width="3.5" height="3.5" fill="#000000"/>
<rect x="248.24" y="295.54" width="3.5" height="3.5" fill="#000000"/>
<rect x="250.62" y="297.01" width="3.5" height="3.5" fill="#000000"/>
<rect x="252.75" y="299.06" width="3.5" height="3.5" fill="#000000"/>
<polyline fill="none" stroke="#ff0000" stroke-width="1.0" stroke-opacity="0.6" points="50,335.82 54.5,332.74 58.18,328.93 61.3,327.47 63.99,325.86 66.37,323.22 68.5,321.02 82.5,310.48 90.69,304.76 96.5,300.37 101,297.15 104.68,295.1 107.8,293.04 110.49,290.85 112.87,289.53 115,287.33 129,278.69 137.19,275.91 143,275.17 147.5,274.15 151.18,272.83 154.3,271.37 156.99,269.9 159.37,268.88 161.5,267.7 175.5,259.21 183.69,256.42 189.5,255.84 194,255.84 197.68,256.13 200.8,256.57 203.49,257.16 205.87,257.6 208,257.89 222,262.72 230.19,266.09 236,268.73 240.5,270.34 244.18,272.54 247.3,274.15 249.99,275.61 252.37,277.37 254.5,278.69"/>
<circle cx="50" cy="335.82" r="2.1" fill="#ff0000"/>
<circle cx="54.5" cy="332.74" r="2.1" fill="#ff0000"/>
<circle cx="58.18" cy="328.93" r="2.1" fill="#ff0000"/>
<circle cx="61.3" cy="327.47" r="2.1" fill="#ff0000"/>
<circle cx="63.99" cy="325.86" r="2.1" fill="#ff0000"/>
<circle cx="66.37" cy="323.22" r="2.1" fill="#ff0000"/>
<circle cx="68.5" cy="321.02" r="2.1" fill="#ff0000"/>
<circle cx="82.5" cy="310.48" r="2.1" fill="#ff0000"/>
<circle cx="90.69" cy="304.76" r="2.1" fill="#ff0000"/>
<circle cx="96.5" cy="300.37" r="2.1" fill="#ff0000"/>
<circle cx="101" cy="297.15" r="2.1" fill="#ff0000"/>
<circle cx="104.68" cy="295.1" r="2.1" fill="#ff0000"/>
<circle cx="107.8" cy="293.04" r="2.1" fill="#ff0000"/>
<circle cx="110.49" cy="290.85" r="2.1" fill="#ff0000"/>
<circle cx="112.87" cy="289.53" r="2.1" fill="#ff0000"/>
<circle cx="115" cy="287.33" r="2.1" fill="#ff0000"/>
<circle cx="129" cy="278.69" r="2.1" fill="#ff0000"/>
<circle cx="137.19" cy="275.91" r="2.1" fill="#ff0000"/>
<circle cx="143" cy="275.17" r="2.1" fill="#ff0000"/>
<circle cx="147.5" cy="274.15" r="2.1" fill="#ff0000"/>
<circle cx="151.18" cy="272.83" r="2.1" fill="#ff0000"/>
<circle cx="154.3" cy="271.37" r="2.1" fill="#ff0000"/>
<circle cx="156.99" cy="269.9" r="2.1" fill="#ff0000"/>
<circle cx="159.37" cy="268.88" r="2.1" fill="#ff0000"/>
<circle cx="161.5" cy="267.7" r="2.1" fill="#ff0000"/>
<circle cx="175.5" cy="259.21" r="2.1" fill="#ff0000"/>
<circle cx="183.69" cy="256.42" r="2.1" fill="#ff0000"/>
<circle cx="189.5" cy="255.84" r="2.1" fill="#ff0000"/>
<circle cx="194" cy="255.84" r="2.1" fill="#ff0000"/>
<circle cx="197.68" cy="256.13" r="2.1" fill="#ff0000"/>
<circle cx="200.8" cy="256.57" r="2.1" fill="#ff0000"/>
<circle cx="203.49" cy="257.16" r="2.1" fill="#ff0000"/>
<circle cx="205.87" cy="257.6" r="2.1" fill="#ff0000"/>
<circle cx="208" cy="257.89" r="2.1" fill="#ff0000"/>
<circle cx="222" cy="262.72" r="2.1" fill="#ff0000"/>
<circle cx="230.19" cy="266.09" r="2.1" fill="#ff0000"/>
<circle cx="236" cy="268.73" r="2.1" fill="#ff0000"/>
<circle cx="240.5" cy="270.34" r="2.1" fill="#ff0000"/>
<circle cx="244.18" cy="272.54" r="2.1" fill="#ff0000"/>
<circle cx="247.3" cy="274.15" r="2.1" fill="#ff0000"/>
<circle cx="249.99" cy="275.61" r="2.1" fill="#ff0000"/>
<circle cx="252.37" cy="277.37" r="2.1" fill="#ff0000"/>
<circle cx="254.5" cy="278.69" r="2.1" fill="#ff0000"/>
<polyline fill="none" stroke="#0000ff" stroke-width="1.0" stroke-opacity="0.6" points="50,348.41 54.5,346.36 58.18,343.29 61.3,341.53 63.99,339.63 66.37,337.87 68.5,336.55 82.5,328.05 90.69,320.44 96.5,314.72 101,309.45 104.68,306.37 107.8,303.59 110.49,300.95 112.87,298.46 115,295.83 129,282.35 137.19,274.44 143,270.19 147.5,267.7 151.18,266.82 154.3,266.09 156.99,265.8 159.37,265.36 161.5,264.92 175.5,256.86 183.69,251.88 189.5,249.1 194,248.08 197.68,247.64 200.8,247.49 203.49,247.49 205.87,247.64 208,248.08 222,255.55 230.19,260.23 236,265.36 240.5,270.05 244.18,274 247.3,277.66 249.99,280.89 252.37,283.52 254.5,285.57"/>
<path d="M50 345.47 L47.45 349.89 L52.55 349.89 Z" fill="#0000ff"/>
<path d="M54.5 343.42 L51.95 347.84 L57.05 347.84 Z" fill="#0000ff"/>
<path d="M58.18 340.34 L55.63 344.76 L60.73 344.76 Z" fill="#0000ff"/>
<path d="M61.3 338.59 L58.75 343 L63.85 343 Z" fill="#0000ff"/>
<path d="M63.99 336.68 L61.44 341.1 L66.54 341.1 Z" fill="#0000ff"/>
<path d="M66.37 334.92 L63.82 339.34 L68.92 339.34 Z" fill="#0000ff"/>
<path d="M68.5 333.6 L65.95 338.02 L71.05 338.02 Z" fill="#0000ff"/>
<path d="M82.5 325.11 L79.95 329.53 L85.05 329.53 Z" fill="#0000ff"/>
<path d="M90.69 317.49 L88.14 321.91 L93.24 321.91 Z" fill="#0000ff"/>
<path d="M96.5 311.78 L93.95 316.2 L99.05 316.2 Z" fill="#0000ff"/>
<path d="M101 306.51 L98.45 310.92 L103.55 310.92 Z" fill="#0000ff"/>
<path d="M104.68 303.43 L102.13 307.85 L107.23 307.85 Z" fill="#0000ff"/>
<path d="M107.8 300.65 L105.25 305.06 L110.35 305.06 Z" fill="#0000ff"/>
<path d="M110.49 298.01 L107.94 302.43 L113.04 302.43 Z" fill="#0000ff"/>
<path d="M112.87 295.52 L110.32 299.94 L115.42 299.94 Z" fill="#0000ff"/>
<path d="M115 292.88 L112.45 297.3 L117.55 297.3 Z" fill="#0000ff"/>
<path d="M129 279.41 L126.45 283.82 L131.55 283.82 Z" fill="#0000ff"/>
<path d="M137.19 271.5 L134.64 275.91 L139.74 275.91 Z" fill="#0000ff"/>
<path d="M143 267.25 L140.45 271.67 L145.55 271.67 Z" fill="#0000ff"/>
<path d="M147.5 264.76 L144.95 269.18 L150.05 269.18 Z" fill="#0000ff"/>
<path d="M151.18 263.88 L148.63 268.3 L153.73 268.3 Z" fill="#0000ff"/>
<path d="M154.3 263.15 L151.75 267.56 L156.85 267.56 Z" fill="#0000ff"/>
<path d="M156.99 262.85 L154.44 267.27 L159.54 267.27 Z" fill="#0000ff"/>
<path d="M159.37 262.42 L156.82 266.83 L161.92 266.83 Z" fill="#0000ff"/>
<path d="M161.5 261.98 L158.95 266.39 L164.05 266.39 Z" fill="#0000ff"/>
<path d="M175.5 253.92 L172.95 258.34 L178.05 258.34 Z" fill="#0000ff"/>
<path d="M183.69 248.94 L181.14 253.36 L186.24 253.36 Z" fill="#0000ff"/>
<path d="M189.5 246.16 L186.95 250.57 L192.05 250.57 Z" fill="#0000ff"/>
<path d="M194 245.13 L191.45 249.55 L196.55 249.55 Z" fill="#0000ff"/>
<path d="M197.68 244.69 L195.13 249.11 L200.23 249.11 Z" fill="#0000ff"/>
<path d="M200.8 244.54 L198.25 248.96 L203.35 248.96 Z" fill="#0000ff"/>
<path d="M203.49 244.54 L200.94 248.96 L206.04 248.96 Z" fill="#0000ff"/>
<path d="M205.87 244.69 L203.32 249.11 L208.42 249.11 Z" fill="#0000ff"/>
<path d="M208 245.13 L205.45 249.55 L210.55 249.55 Z" fill="#0000ff"/>
<path d="M222 252.6 L219.45 257.02 L224.55 257.02 Z" fill="#0000ff"/>
<path d="M230.19 257.29 L227.64 261.71 L232.74 261.71 Z" fill="#0000ff"/>
<path d="M236 262.42 L233.45 266.83 L238.55 266.83 Z" fill="#0000ff"/>
<path d="M240.5 267.1 L237.95 271.52 L243.05 271.52 Z" fill="#0000ff"/>
<path d="M244.18 271.06 L241.63 275.47 L246.73 275.47 Z" fill="#0000ff"/>
<path d="M247.3 274.72 L244.75 279.14 L249.85 279.14 Z" fill="#0000ff"/>
<path d="M249.99 277.94 L247.44 282.36 L252.54 282.36 Z" fill="#0000ff"/>
<path d="M252.37 280.58 L249.82 285 L254.92 285 Z" fill="#0000ff"/>
<path d="M254.5 282.63 L251.95 287.05 L257.05 287.05 Z" fill="#0000ff"/>
<polyline fill="none" stroke="#008080" stroke-width="1.0" stroke-opacity="0.6" points="50,255.84 54.5,254.52 58.18,253.49 61.3,252.91 63.99,252.47 66.37,251.88 68.5,251.59 82.5,249.83 90.69,248.95 96.5,248.81 101,248.51 104.68,248.22 107.8,248.22 110.49,248.22 112.87,248.22 115,248.22 129,246.17 137.19,241.04 143,236.94 147.5,233.72 151.18,232.11 154.3,229.77 156.99,228.3 159.37,227.28 161.5,226.54 175.5,226.54 183.69,229.03 189.5,232.26 194,234.75 197.68,237.09 200.8,238.99 203.49,241.04 205.87,242.95 208,245.29 222,258.33 230.19,266.53 236,273.12 240.5,277.37 244.18,280.89 247.3,283.82 249.99,286.6 252.37,289.09 254.5,291.14"/>
<path d="M50 258.78 L47.45 254.37 L52.55 254.37 Z" fill="#008080"/>
<path d="M54.5 257.46 L51.95 253.05 L57.05 253.05 Z" fill="#008080"/>
<path d="M58.18 256.44 L55.63 252.02 L60.73 252.02 Z" fill="#008080"/>
<path d="M61.3 255.85 L58.75 251.44 L63.85 251.44 Z" fill="#008080"/>
<path d="M63.99 255.41 L61.44 251 L66.54 251 Z" fill="#008080"/>
<path d="M66.37 254.83 L63.82 250.41 L68.92 250.41 Z" fill="#008080"/>
<path d="M68.5 254.54 L65.95 250.12 L71.05 250.12 Z" fill="#008080"/>
<path d="M82.5 252.78 L79.95 248.36 L85.05 248.36 Z" fill="#008080"/>
<path d="M90.69 251.9 L88.14 247.48 L93.24 247.48 Z" fill="#008080"/>
<path d="M96.5 251.75 L93.95 247.34 L99.05 247.34 Z" fill="#008080"/>
<path d="M101 251.46 L98.45 247.04 L103.55 247.04 Z" fill="#008080"/>
<path d="M104.68 251.17 L102.13 246.75 L107.23 246.75 Z" fill="#008080"/>
<path d="M107.8 251.17 L105.25 246.75 L110.35 246.75 Z" fill="#008080"/>
<path d="M110.49 251.17 L107.94 246.75 L113.04 246.75 Z" fill="#008080"/>
<path d="M112.87 251.17 L110.32 246.75 L115.42 246.75 Z" fill="#008080"/>
<path d="M115 251.17 L112.45 246.75 L117.55 246.75 Z" fill="#008080"/>
<path d="M129 249.12 L126.45 244.7 L131.55 244.7 Z" fill="#008080"/>
<path d="M137.19 243.99 L134.64 239.57 L139.74 239.57 Z" fill="#008080"/>
<path d="M143 239.89 L140.45 235.47 L145.55 235.47 Z" fill="#008080"/>
<path d="M147.5 236.66 L144.95 232.25 L150.05 232.25 Z" fill="#008080"/>
<path d="M151.18 235.05 L148.63 230.64 L153.73 230.64 Z" fill="#008080"/>
<path d="M154.3 232.71 L151.75 228.29 L156.85 228.29 Z" fill="#008080"/>
<path d="M156.99 231.24 L154.44 226.83 L159.54 226.83 Z" fill="#008080"/>
<path d="M159.37 230.22 L156.82 225.8 L161.92 225.8 Z" fill="#008080"/>
<path d="M161.5 229.49 L158.95 225.07 L164.05 225.07 Z" fill="#008080"/>
<path d="M175.5 229.49 L172.95 225.07 L178.05 225.07 Z" fill="#008080"/>
<path d="M183.69 231.98 L181.14 227.56 L186.24 227.56 Z" fill="#008080"/>
<path d="M189.5 235.2 L186.95 230.78 L192.05 230.78 Z" fill="#008080"/>
<path d="M194 237.69 L191.45 233.27 L196.55 233.27 Z" fill="#008080"/>
<path d="M197.68 240.03 L195.13 235.62 L200.23 235.62 Z" fill="#008080"/>
<path d="M200.8 241.94 L198.25 237.52 L203.35 237.52 Z" fill="#008080"/>
<path d="M203.49 243.99 L200.94 239.57 L206.04 239.57 Z" fill="#008080"/>
<path d="M205.87 245.89 L203.32 241.48 L208.42 241.48 Z" fill="#008080"/>
<path d="M208 248.24 L205.45 243.82 L210.55 243.82 Z" fill="#008080"/>
<path d="M222 261.27 L219.45 256.86 L224.55 256.86 Z" fill="#008080"/>
<path d="M230.19 269.48 L227.64 265.06 L232.74 265.06 Z" fill="#008080"/>
<path d="M236 276.07 L233.45 271.65 L238.55 271.65 Z" fill="#008080"/>
<path d="M240.5 280.32 L237.95 275.9 L243.05 275.9 Z" fill="#008080"/>
<path d="M244.18 283.83 L241.63 279.41 L246.73 279.41 Z" fill="#008080"/>
<path d="M247.3 286.76 L244.75 282.34 L249.85 282.34 Z" fill="#008080"/>
<path d="M249.99 289.54 L247.44 285.13 L252.54 285.13 Z" fill="#008080"/>
<path d="M252.37 292.03 L249.82 287.62 L254.92 287.62 Z" fill="#008080"/>
<path d="M254.5 294.08 L251.95 289.67 L257.05 289.67 Z" fill="#008080"/>
<polyline fill="none" stroke="#ff00ff" stroke-width="1.0" stroke-opacity="0.6" points="50,262.58 54.5,262.58 58.18,262.58 61.3,262.58 63.99,262.28 66.37,262.14 68.5,262.14 82.5,262.14 90.69,262.14 96.5,262.14 101,261.7 104.68,260.97 107.8,259.35 110.49,258.04 112.87,256.42 115,252.91 129,232.11 137.19,225.22 143,220.1 147.5,217.75 151.18,217.02 154.3,217.02 156.99,217.46 159.37,218.49 161.5,219.8 175.5,229.03 183.69,236.36 189.5,242.51 194,246.32 197.68,250.27 200.8,253.35 203.49,256.42 205.87,258.33 208,259.79 222,274.44 230.19,282.5 236,289.82 240.5,293.78 244.18,297.29 247.3,300.37 249.99,303.44 252.37,305.06 254.5,306.52"/>
<path d="M47.05 262.58 L51.47 260.03 L51.47 265.13 Z" fill="#ff00ff"/>
<path d="M51.56 262.58 L55.97 260.03 L55.97 265.13 Z" fill="#ff00ff"/>
<path d="M55.24 262.58 L59.66 260.03 L59.66 265.13 Z" fill="#ff00ff"/>
<path d="M58.35 262.58 L62.77 260.03 L62.77 265.13 Z" fill="#ff00ff"/>
<path d="M61.05 262.28 L65.47 259.73 L65.47 264.83 Z" fill="#ff00ff"/>
<path d="M63.43 262.14 L67.84 259.59 L67.84 264.69 Z" fill="#ff00ff"/>
<path d="M65.56 262.14 L69.97 259.59 L69.97 264.69 Z" fill="#ff00ff"/>
<path d="M79.55 262.14 L83.97 259.59 L83.97 264.69 Z" fill="#ff00ff"/>
<path d="M87.74 262.14 L92.16 259.59 L92.16 264.69 Z" fill="#ff00ff"/>
<path d="M93.55 262.14 L97.97 259.59 L97.97 264.69 Z" fill="#ff00ff"/>
<path d="M98.06 261.7 L102.47 259.15 L102.47 264.25 Z" fill="#ff00ff"/>
<path d="M101.74 260.97 L106.16 258.42 L106.16 263.52 Z" fill="#ff00ff"/>
<path d="M104.85 259.35 L109.27 256.8 L109.27 261.9 Z" fill="#ff00ff"/>
<path d="M107.55 258.04 L111.97 255.49 L111.97 260.59 Z" fill="#ff00ff"/>
<path d="M109.93 256.42 L114.34 253.87 L114.34 258.97 Z" fill="#ff00ff"/>
<path d="M112.06 252.91 L116.47 250.36 L116.47 255.46 Z" fill="#ff00ff"/>
<path d="M126.05 232.11 L130.47 229.56 L130.47 234.66 Z" fill="#ff00ff"/>
<path d="M134.24 225.22 L138.66 222.67 L138.66 227.77 Z" fill="#ff00ff"/>
<path d="M140.05 220.1 L144.47 217.55 L144.47 222.65 Z" fill="#ff00ff"/>
<path d="M144.56 217.75 L148.97 215.2 L148.97 220.3 Z" fill="#ff00ff"/>
<path d="M148.24 217.02 L152.66 214.47 L152.66 219.57 Z" fill="#ff00ff"/>
<path d="M151.35 217.02 L155.77 214.47 L155.77 219.57 Z" fill="#ff00ff"/>
<path d="M154.05 217.46 L158.47 214.91 L158.47 220.01 Z" fill="#ff00ff"/>
<path d="M156.43 218.49 L160.84 215.94 L160.84 221.04 Z" fill="#ff00ff"/>
<path d="M158.56 219.8 L162.97 217.25 L162.97 222.35 Z" fill="#ff00ff"/>
<path d="M172.55 229.03 L176.97 226.48 L176.97 231.58 Z" fill="#ff00ff"/>
<path d="M180.74 236.36 L185.16 233.81 L185.16 238.91 Z" fill="#ff00ff"/>
<path d="M186.55 242.51 L190.97 239.96 L190.97 245.06 Z" fill="#ff00ff"/>
<path d="M191.06 246.32 L195.47 243.77 L195.47 248.87 Z" fill="#ff00ff"/>
<path d="M194.74 250.27 L199.16 247.72 L199.16 252.82 Z" fill="#ff00ff"/>
<path d="M197.85 253.35 L202.27 250.8 L202.27 255.9 Z" fill="#ff00ff"/>
<path d="M200.55 256.42 L204.97 253.87 L204.97 258.97 Z" fill="#ff00ff"/>
<path d="M202.93 258.33 L207.34 255.78 L207.34 260.88 Z" fill="#ff00ff"/>
<path d="M205.06 259.79 L209.47 257.24 L209.47 262.34 Z" fill="#ff00ff"/>
<path d="M219.05 274.44 L223.47 271.89 L223.47 276.99 Z" fill="#ff00ff"/>
<path d="M227.24 282.5 L231.66 279.95 L231.66 285.05 Z" fill="#ff00ff"/>
<path d="M233.05 289.82 L237.47 287.27 L237.47 292.37 Z" fill="#ff00ff"/>
<path d="M237.56 293.78 L241.97 291.23 L241.97 296.33 Z" fill="#ff00ff"/>
<path d="M241.24 297.29 L245.66 294.74 L245.66 299.84 Z" fill="#ff00ff"/>
<path d="M244.35 300.37 L248.77 297.82 L248.77 302.92 Z" fill="#ff00ff"/>
<path d="M247.05 303.44 L251.47 300.89 L251.47 305.99 Z" fill="#ff00ff"/>
<path d="M249.43 305.06 L253.84 302.51 L253.84 307.61 Z" fill="#ff00ff"/>
<path d="M251.56 306.52 L255.97 303.97 L255.97 309.07 Z" fill="#ff00ff"/>
<polyline fill="none" stroke="#808000" stroke-width="1.0" stroke-opacity="0.6" points="50,241.34 54.5,242.07 58.18,242.51 61.3,243.24 63.99,244.12 66.37,245 68.5,245.59 82.5,242.07 90.69,235.48 96.5,229.77 101,226.25 104.68,223.61 107.8,221.71 110.49,220.1 112.87,218.19 115,216.58 129,212.48 137.19,213.07 143,215.41 147.5,217.31 151.18,218.78 154.3,219.95 156.99,221.71 159.37,223.17 161.5,224.2 175.5,232.26 183.69,237.82 189.5,242.51 194,245.73 197.68,248.81 200.8,252.47 203.49,255.25 205.87,257.6 208,259.35 222,274 230.19,282.06 236,289.24 240.5,294.22 244.18,297.88 247.3,301.39 249.99,304.03 252.37,306.52 254.5,308.57"/>
<path d="M52.94 241.34 L48.52 238.79 L48.52 243.89 Z" fill="#808000"/>
<path d="M57.45 242.07 L53.03 239.52 L53.03 244.62 Z" fill="#808000"/>
<path d="M61.13 242.51 L56.71 239.96 L56.71 245.06 Z" fill="#808000"/>
<path d="M64.24 243.24 L59.82 240.69 L59.82 245.79 Z" fill="#808000"/>
<path d="M66.94 244.12 L62.52 241.57 L62.52 246.67 Z" fill="#808000"/>
<path d="M69.32 245 L64.9 242.45 L64.9 247.55 Z" fill="#808000"/>
<path d="M71.44 245.59 L67.03 243.04 L67.03 248.14 Z" fill="#808000"/>
<path d="M85.44 242.07 L81.03 239.52 L81.03 244.62 Z" fill="#808000"/>
<path d="M93.63 235.48 L89.21 232.93 L89.21 238.03 Z" fill="#808000"/>
<path d="M99.44 229.77 L95.02 227.22 L95.02 232.32 Z" fill="#808000"/>
<path d="M103.95 226.25 L99.53 223.7 L99.53 228.8 Z" fill="#808000"/>
<path d="M107.63 223.61 L103.21 221.06 L103.21 226.16 Z" fill="#808000"/>
<path d="M110.74 221.71 L106.32 219.16 L106.32 224.26 Z" fill="#808000"/>
<path d="M113.44 220.1 L109.02 217.55 L109.02 222.65 Z" fill="#808000"/>
<path d="M115.82 218.19 L111.4 215.64 L111.4 220.74 Z" fill="#808000"/>
<path d="M117.94 216.58 L113.53 214.03 L113.53 219.13 Z" fill="#808000"/>
<path d="M131.94 212.48 L127.53 209.93 L127.53 215.03 Z" fill="#808000"/>
<path d="M140.13 213.07 L135.71 210.52 L135.71 215.62 Z" fill="#808000"/>
<path d="M145.94 215.41 L141.52 212.86 L141.52 217.96 Z" fill="#808000"/>
<path d="M150.45 217.31 L146.03 214.76 L146.03 219.86 Z" fill="#808000"/>
<path d="M154.13 218.78 L149.71 216.23 L149.71 221.33 Z" fill="#808000"/>
<path d="M157.24 219.95 L152.82 217.4 L152.82 222.5 Z" fill="#808000"/>
<path d="M159.94 221.71 L155.52 219.16 L155.52 224.26 Z" fill="#808000"/>
<path d="M162.32 223.17 L157.9 220.62 L157.9 225.72 Z" fill="#808000"/>
<path d="M164.44 224.2 L160.03 221.65 L160.03 226.75 Z" fill="#808000"/>
<path d="M178.44 232.26 L174.03 229.71 L174.03 234.81 Z" fill="#808000"/>
<path d="M186.63 237.82 L182.21 235.27 L182.21 240.37 Z" fill="#808000"/>
<path d="M192.44 242.51 L188.02 239.96 L188.02 245.06 Z" fill="#808000"/>
<path d="M196.95 245.73 L192.53 243.18 L192.53 248.28 Z" fill="#808000"/>
<path d="M200.63 248.81 L196.21 246.26 L196.21 251.36 Z" fill="#808000"/>
<path d="M203.74 252.47 L199.32 249.92 L199.32 255.02 Z" fill="#808000"/>
<path d="M206.44 255.25 L202.02 252.7 L202.02 257.8 Z" fill="#808000"/>
<path d="M208.82 257.6 L204.4 255.05 L204.4 260.15 Z" fill="#808000"/>
<path d="M210.94 259.35 L206.53 256.8 L206.53 261.9 Z" fill="#808000"/>
<path d="M224.94 274 L220.53 271.45 L220.53 276.55 Z" fill="#808000"/>
<path d="M233.13 282.06 L228.71 279.51 L228.71 284.61 Z" fill="#808000"/>
<path d="M238.94 289.24 L234.52 286.69 L234.52 291.79 Z" fill="#808000"/>
<path d="M243.45 294.22 L239.03 291.67 L239.03 296.77 Z" fill="#808000"/>
<path d="M247.13 297.88 L242.71 295.33 L242.71 300.43 Z" fill="#808000"/>
<path d="M250.24 301.39 L245.82 298.84 L245.82 303.94 Z" fill="#808000"/>
<path d="M252.94 304.03 L248.52 301.48 L248.52 306.58 Z" fill="#808000"/>
<path d="M255.32 306.52 L250.9 303.97 L250.9 309.07 Z" fill="#808000"/>
<path d="M257.44 308.57 L253.03 306.02 L253.03 311.12 Z" fill="#808000"/>
</g>
<rect x="50" y="205.6" width="209" height="153.8" fill="none" stroke="#3a3a3a" stroke-width="1.0"/>
<path d="M68.5 359.4v-3.4M68.5 205.6v3.4M115 359.4v-3.4M115 205.6v3.4M161.5 359.4v-3.4M161.5 205.6v3.4M208 359.4v-3.4M208 205.6v3.4M254.5 359.4v-3.4M254.5 205.6v3.4M54.5 359.4v-1.9M54.5 205.6v1.9M58.18 359.4v-1.9M58.18 205.6v1.9M61.3 359.4v-1.9M61.3 205.6v1.9M63.99 359.4v-1.9M63.99 205.6v1.9M66.37 359.4v-1.9M66.37 205.6v1.9M82.5 359.4v-1.9M82.5 205.6v1.9M90.69 359.4v-1.9M90.69 205.6v1.9M96.5 359.4v-1.9M96.5 205.6v1.9M101 359.4v-1.9M101 205.6v1.9M104.68 359.4v-1.9M104.68 205.6v1.9M107.8 359.4v-1.9M107.8 205.6v1.9M110.49 359.4v-1.9M110.49 205.6v1.9M112.87 359.4v-1.9M112.87 205.6v1.9M129 359.4v-1.9M129 205.6v1.9M137.19 359.4v-1.9M137.19 205.6v1.9M143 359.4v-1.9M143 205.6v1.9M147.5 359.4v-1.9M147.5 205.6v1.9M151.18 359.4v-1.9M151.18 205.6v1.9M154.3 359.4v-1.9M154.3 205.6v1.9M156.99 359.4v-1.9M156.99 205.6v1.9M159.37 359.4v-1.9M159.37 205.6v1.9M175.5 359.4v-1.9M175.5 205.6v1.9M183.69 359.4v-1.9M183.69 205.6v1.9M189.5 359.4v-1.9M189.5 205.6v1.9M194 359.4v-1.9M194 205.6v1.9M197.68 359.4v-1.9M197.68 205.6v1.9M200.8 359.4v-1.9M200.8 205.6v1.9M203.49 359.4v-1.9M203.49 205.6v1.9M205.87 359.4v-1.9M205.87 205.6v1.9M222 359.4v-1.9M222 205.6v1.9M230.19 359.4v-1.9M230.19 205.6v1.9M236 359.4v-1.9M236 205.6v1.9M240.5 359.4v-1.9M240.5 205.6v1.9M244.18 359.4v-1.9M244.18 205.6v1.9M247.3 359.4v-1.9M247.3 205.6v1.9M249.99 359.4v-1.9M249.99 205.6v1.9M252.37 359.4v-1.9M252.37 205.6v1.9M50 352.08h1.9M259 352.08h-1.9M50 344.75h1.9M259 344.75h-1.9M50 337.43h1.9M259 337.43h-1.9M50 330.1h3.4M259 330.1h-3.4M50 322.78h1.9M259 322.78h-1.9M50 315.46h1.9M259 315.46h-1.9M50 308.13h1.9M259 308.13h-1.9M50 300.81h3.4M259 300.81h-3.4M50 293.48h1.9M259 293.48h-1.9M50 286.16h1.9M259 286.16h-1.9M50 278.84h1.9M259 278.84h-1.9M50 271.51h3.4M259 271.51h-3.4M50 264.19h1.9M259 264.19h-1.9M50 256.86h1.9M259 256.86h-1.9M50 249.54h1.9M259 249.54h-1.9M50 242.22h3.4M259 242.22h-3.4M50 234.89h1.9M259 234.89h-1.9M50 227.57h1.9M259 227.57h-1.9M50 220.24h1.9M259 220.24h-1.9M50 212.92h3.4M259 212.92h-3.4" stroke="#3a3a3a" stroke-width="1.0" fill="none"/>
<text transform="translate(46.3 362.03) scale(0.93 1)" text-anchor="end" font-size="9.3">0</text>
<text transform="translate(46.3 332.73) scale(0.93 1)" text-anchor="end" font-size="9.3">20</text>
<text transform="translate(46.3 303.44) scale(0.93 1)" text-anchor="end" font-size="9.3">40</text>
<text transform="translate(46.3 274.14) scale(0.93 1)" text-anchor="end" font-size="9.3">60</text>
<text transform="translate(46.3 244.84) scale(0.93 1)" text-anchor="end" font-size="9.3">80</text>
<text transform="translate(46.3 215.55) scale(0.93 1)" text-anchor="end" font-size="9.3">100</text>
<text transform="translate(69.3 371.8) scale(0.93 1)" text-anchor="middle" font-size="9.3">10<tspan dx="-0.4" dy="-4.4" font-size="6.6">-3</tspan></text>
<text transform="translate(115.8 371.8) scale(0.93 1)" text-anchor="middle" font-size="9.3">10<tspan dx="-0.4" dy="-4.4" font-size="6.6">-2</tspan></text>
<text transform="translate(162.3 371.8) scale(0.93 1)" text-anchor="middle" font-size="9.3">10<tspan dx="-0.4" dy="-4.4" font-size="6.6">-1</tspan></text>
<text transform="translate(208.8 371.8) scale(0.93 1)" text-anchor="middle" font-size="9.3">10<tspan dx="-0.4" dy="-4.4" font-size="6.6">0</tspan></text>
<text transform="translate(255.3 371.8) scale(0.93 1)" text-anchor="middle" font-size="9.3">10<tspan dx="-0.4" dy="-4.4" font-size="6.6">1</tspan></text>
<text x="154.8" y="384" text-anchor="middle" font-size="10.4">Current (mA)</text>
<text transform="translate(26.6 281.5) rotate(-90)" text-anchor="middle" font-size="10.6">IQE (%)</text>
<path d="M174.3 296.7H180.2M185.8 296.7H191.9" stroke="#000000" stroke-width="1.3" opacity="0.45"/>
<rect x="181.25" y="294.95" width="3.5" height="3.5" fill="#000000"/>
<text transform="translate(215.2 299.5) scale(0.89 1)" text-anchor="end" font-size="9.3">300 K</text>
<path d="M174.3 306.6H180.2M185.8 306.6H191.9" stroke="#ff0000" stroke-width="1.3" opacity="0.45"/>
<circle cx="183" cy="306.6" r="2.1" fill="#ff0000"/>
<text transform="translate(215.2 309.4) scale(0.89 1)" text-anchor="end" font-size="9.3">250 K</text>
<path d="M174.3 316.5H180.2M185.8 316.5H191.9" stroke="#0000ff" stroke-width="1.3" opacity="0.45"/>
<path d="M183 313.56 L180.45 317.97 L185.55 317.97 Z" fill="#0000ff"/>
<text transform="translate(215.2 319.3) scale(0.89 1)" text-anchor="end" font-size="9.3">200 K</text>
<path d="M174.3 326.6H180.2M185.8 326.6H191.9" stroke="#008080" stroke-width="1.3" opacity="0.45"/>
<path d="M183 329.54 L180.45 325.13 L185.55 325.13 Z" fill="#008080"/>
<text transform="translate(215.2 329.4) scale(0.89 1)" text-anchor="end" font-size="9.3">150 K</text>
<path d="M174.3 336.6H180.2M185.8 336.6H191.9" stroke="#ff00ff" stroke-width="1.3" opacity="0.45"/>
<path d="M180.06 336.6 L184.47 334.05 L184.47 339.15 Z" fill="#ff00ff"/>
<text transform="translate(215.2 339.4) scale(0.89 1)" text-anchor="end" font-size="9.3">100 K</text>
<path d="M174.3 346.7H180.2M185.8 346.7H191.9" stroke="#808000" stroke-width="1.3" opacity="0.45"/>
<path d="M185.94 346.7 L181.53 344.15 L181.53 349.25 Z" fill="#808000"/>
<text transform="translate(215.2 349.5) scale(0.89 1)" text-anchor="end" font-size="9.3">50 K</text>
<clipPath id="c2"><rect x="332.5" y="200.5" width="211" height="159"/></clipPath>
<g clip-path="url(#c2)">
<polyline fill="none" stroke="#000000" stroke-width="1.0" stroke-opacity="0.6" points="332.47,353.56 336.42,352.67 339.65,351.92 342.37,351.48 344.74,351.18 346.82,350.73 348.69,350.29 360.96,348.36 368.14,347.17 373.24,346.43 377.19,345.98 380.42,345.53 383.14,344.94 385.51,344.35 387.59,343.6 389.46,342.86 401.73,340.78 408.91,338.4 414.01,336.47 417.96,334.09 421.19,331.72 423.91,329.79 426.28,328.15 428.36,326.81 430.23,325.77 442.5,313.15 449.68,302.89 454.78,295.47 458.73,289.82 461.96,285.07 464.68,281.65 467.05,278.08 469.13,274.82 471,272.29 483.27,258.47 490.45,253.12 495.55,248.96 499.5,247.63 502.73,245.84 505.45,244.8 507.82,244.66 509.9,244.66 511.77,244.8 524.04,246.14 531.22,249.41 536.32,252.68 540.27,255.95"/>
<rect x="330.72" y="351.81" width="3.5" height="3.5" fill="#000000"/>
<rect x="334.67" y="350.92" width="3.5" height="3.5" fill="#000000"/>
<rect x="337.9" y="350.17" width="3.5" height="3.5" fill="#000000"/>
<rect x="340.62" y="349.73" width="3.5" height="3.5" fill="#000000"/>
<rect x="342.99" y="349.43" width="3.5" height="3.5" fill="#000000"/>
<rect x="345.07" y="348.98" width="3.5" height="3.5" fill="#000000"/>
<rect x="346.94" y="348.54" width="3.5" height="3.5" fill="#000000"/>
<rect x="359.21" y="346.61" width="3.5" height="3.5" fill="#000000"/>
<rect x="366.39" y="345.42" width="3.5" height="3.5" fill="#000000"/>
<rect x="371.49" y="344.68" width="3.5" height="3.5" fill="#000000"/>
<rect x="375.44" y="344.23" width="3.5" height="3.5" fill="#000000"/>
<rect x="378.67" y="343.78" width="3.5" height="3.5" fill="#000000"/>
<rect x="381.39" y="343.19" width="3.5" height="3.5" fill="#000000"/>
<rect x="383.76" y="342.6" width="3.5" height="3.5" fill="#000000"/>
<rect x="385.84" y="341.85" width="3.5" height="3.5" fill="#000000"/>
<rect x="387.71" y="341.11" width="3.5" height="3.5" fill="#000000"/>
<rect x="399.98" y="339.03" width="3.5" height="3.5" fill="#000000"/>
<rect x="407.16" y="336.65" width="3.5" height="3.5" fill="#000000"/>
<rect x="412.26" y="334.72" width="3.5" height="3.5" fill="#000000"/>
<rect x="416.21" y="332.34" width="3.5" height="3.5" fill="#000000"/>
<rect x="419.44" y="329.97" width="3.5" height="3.5" fill="#000000"/>
<rect x="422.16" y="328.04" width="3.5" height="3.5" fill="#000000"/>
<rect x="424.53" y="326.4" width="3.5" height="3.5" fill="#000000"/>
<rect x="426.61" y="325.06" width="3.5" height="3.5" fill="#000000"/>
<rect x="428.48" y="324.02" width="3.5" height="3.5" fill="#000000"/>
<rect x="440.75" y="311.4" width="3.5" height="3.5" fill="#000000"/>
<rect x="447.93" y="301.14" width="3.5" height="3.5" fill="#000000"/>
<rect x="453.03" y="293.72" width="3.5" height="3.5" fill="#000000"/>
<rect x="456.98" y="288.07" width="3.5" height="3.5" fill="#000000"/>
<rect x="460.21" y="283.32" width="3.5" height="3.5" fill="#000000"/>
<rect x="462.93" y="279.9" width="3.5" height="3.5" fill="#000000"/>
<rect x="465.3" y="276.33" width="3.5" height="3.5" fill="#000000"/>
<rect x="467.38" y="273.07" width="3.5" height="3.5" fill="#000000"/>
<rect x="469.25" y="270.54" width="3.5" height="3.5" fill="#000000"/>
<rect x="481.52" y="256.72" width="3.5" height="3.5" fill="#000000"/>
<rect x="488.7" y="251.37" width="3.5" height="3.5" fill="#000000"/>
<rect x="493.8" y="247.21" width="3.5" height="3.5" fill="#000000"/>
<rect x="497.75" y="245.88" width="3.5" height="3.5" fill="#000000"/>
<rect x="500.98" y="244.09" width="3.5" height="3.5" fill="#000000"/>
<rect x="503.7" y="243.05" width="3.5" height="3.5" fill="#000000"/>
<rect x="506.07" y="242.91" width="3.5" height="3.5" fill="#000000"/>
<rect x="508.15" y="242.91" width="3.5" height="3.5" fill="#000000"/>
<rect x="510.02" y="243.05" width="3.5" height="3.5" fill="#000000"/>
<rect x="522.29" y="244.39" width="3.5" height="3.5" fill="#000000"/>
<rect x="529.47" y="247.66" width="3.5" height="3.5" fill="#000000"/>
<rect x="534.57" y="250.93" width="3.5" height="3.5" fill="#000000"/>
<rect x="538.52" y="254.2" width="3.5" height="3.5" fill="#000000"/>
<polyline fill="none" stroke="#ff0000" stroke-width="1.0" stroke-opacity="0.6" points="332.47,351.18 336.42,350.29 339.65,349.55 342.37,348.8 344.74,348.36 346.82,347.91 348.69,347.47 360.96,345.98 368.14,344.94 373.24,344.05 377.19,343.6 380.42,342.86 383.14,342.41 385.51,341.67 387.59,340.78 389.46,340.04 401.73,336.03 408.91,332.91 414.01,331.27 417.96,328.89 421.19,326.52 423.91,324.14 426.28,321.76 428.36,320.13 430.23,318.79 442.5,304.97 449.68,294.72 454.78,286.4 458.73,280.61 461.96,276 464.68,271.84 467.05,267.83 469.13,265.01 471,263.08 483.27,248.96 490.45,243.47 495.55,240.05 499.5,237.97 502.73,236.63 505.45,236.04 507.82,235.59 509.9,235.15 511.77,235.15 524.04,235.89 531.22,238.56 536.32,242.28 540.27,244.95"/>
<circle cx="332.47" cy="351.18" r="2.1" fill="#ff0000"/>
<circle cx="336.42" cy="350.29" r="2.1" fill="#ff0000"/>
<circle cx="339.65" cy="349.55" r="2.1" fill="#ff0000"/>
<circle cx="342.37" cy="348.8" r="2.1" fill="#ff0000"/>
<circle cx="344.74" cy="348.36" r="2.1" fill="#ff0000"/>
<circle cx="346.82" cy="347.91" r="2.1" fill="#ff0000"/>
<circle cx="348.69" cy="347.47" r="2.1" fill="#ff0000"/>
<circle cx="360.96" cy="345.98" r="2.1" fill="#ff0000"/>
<circle cx="368.14" cy="344.94" r="2.1" fill="#ff0000"/>
<circle cx="373.24" cy="344.05" r="2.1" fill="#ff0000"/>
<circle cx="377.19" cy="343.6" r="2.1" fill="#ff0000"/>
<circle cx="380.42" cy="342.86" r="2.1" fill="#ff0000"/>
<circle cx="383.14" cy="342.41" r="2.1" fill="#ff0000"/>
<circle cx="385.51" cy="341.67" r="2.1" fill="#ff0000"/>
<circle cx="387.59" cy="340.78" r="2.1" fill="#ff0000"/>
<circle cx="389.46" cy="340.04" r="2.1" fill="#ff0000"/>
<circle cx="401.73" cy="336.03" r="2.1" fill="#ff0000"/>
<circle cx="408.91" cy="332.91" r="2.1" fill="#ff0000"/>
<circle cx="414.01" cy="331.27" r="2.1" fill="#ff0000"/>
<circle cx="417.96" cy="328.89" r="2.1" fill="#ff0000"/>
<circle cx="421.19" cy="326.52" r="2.1" fill="#ff0000"/>
<circle cx="423.91" cy="324.14" r="2.1" fill="#ff0000"/>
<circle cx="426.28" cy="321.76" r="2.1" fill="#ff0000"/>
<circle cx="428.36" cy="320.13" r="2.1" fill="#ff0000"/>
<circle cx="430.23" cy="318.79" r="2.1" fill="#ff0000"/>
<circle cx="442.5" cy="304.97" r="2.1" fill="#ff0000"/>
<circle cx="449.68" cy="294.72" r="2.1" fill="#ff0000"/>
<circle cx="454.78" cy="286.4" r="2.1" fill="#ff0000"/>
<circle cx="458.73" cy="280.61" r="2.1" fill="#ff0000"/>
<circle cx="461.96" cy="276" r="2.1" fill="#ff0000"/>
<circle cx="464.68" cy="271.84" r="2.1" fill="#ff0000"/>
<circle cx="467.05" cy="267.83" r="2.1" fill="#ff0000"/>
<circle cx="469.13" cy="265.01" r="2.1" fill="#ff0000"/>
<circle cx="471" cy="263.08" r="2.1" fill="#ff0000"/>
<circle cx="483.27" cy="248.96" r="2.1" fill="#ff0000"/>
<circle cx="490.45" cy="243.47" r="2.1" fill="#ff0000"/>
<circle cx="495.55" cy="240.05" r="2.1" fill="#ff0000"/>
<circle cx="499.5" cy="237.97" r="2.1" fill="#ff0000"/>
<circle cx="502.73" cy="236.63" r="2.1" fill="#ff0000"/>
<circle cx="505.45" cy="236.04" r="2.1" fill="#ff0000"/>
<circle cx="507.82" cy="235.59" r="2.1" fill="#ff0000"/>
<circle cx="509.9" cy="235.15" r="2.1" fill="#ff0000"/>
<circle cx="511.77" cy="235.15" r="2.1" fill="#ff0000"/>
<circle cx="524.04" cy="235.89" r="2.1" fill="#ff0000"/>
<circle cx="531.22" cy="238.56" r="2.1" fill="#ff0000"/>
<circle cx="536.32" cy="242.28" r="2.1" fill="#ff0000"/>
<circle cx="540.27" cy="244.95" r="2.1" fill="#ff0000"/>
<polyline fill="none" stroke="#0000ff" stroke-width="1.0" stroke-opacity="0.6" points="332.47,345.98 336.42,344.05 339.65,342.41 342.37,341.67 344.74,341.23 346.82,340.78 348.69,340.33 360.96,336.92 368.14,334.69 373.24,332.91 377.19,332.16 380.42,331.27 383.14,330.53 385.51,329.34 387.59,328.75 389.46,327.56 401.73,324.14 408.91,319.83 414.01,317.01 417.96,313.89 421.19,310.92 423.91,308.54 426.28,306.76 428.36,305.72 430.23,304.53 442.5,289.82 449.68,280.16 454.78,274.07 458.73,269.17 461.96,266.2 464.68,263.67 467.05,261 469.13,258.18 471,255.5 483.27,244.36 490.45,238.42 495.55,235.44 499.5,233.51 502.73,232.47 505.45,231.58 507.82,231.28 509.9,230.84 511.77,230.39 524.04,232.32 531.22,235 536.32,238.42 540.27,241.09"/>
<path d="M332.47 343.04 L329.92 347.45 L335.02 347.45 Z" fill="#0000ff"/>
<path d="M336.42 341.1 L333.87 345.52 L338.97 345.52 Z" fill="#0000ff"/>
<path d="M339.65 339.47 L337.1 343.89 L342.2 343.89 Z" fill="#0000ff"/>
<path d="M342.37 338.73 L339.82 343.14 L344.92 343.14 Z" fill="#0000ff"/>
<path d="M344.74 338.28 L342.19 342.7 L347.29 342.7 Z" fill="#0000ff"/>
<path d="M346.82 337.84 L344.27 342.25 L349.37 342.25 Z" fill="#0000ff"/>
<path d="M348.69 337.39 L346.14 341.81 L351.24 341.81 Z" fill="#0000ff"/>
<path d="M360.96 333.97 L358.41 338.39 L363.51 338.39 Z" fill="#0000ff"/>
<path d="M368.14 331.74 L365.59 336.16 L370.69 336.16 Z" fill="#0000ff"/>
<path d="M373.24 329.96 L370.69 334.38 L375.79 334.38 Z" fill="#0000ff"/>
<path d="M377.19 329.22 L374.64 333.64 L379.74 333.64 Z" fill="#0000ff"/>
<path d="M380.42 328.33 L377.87 332.74 L382.97 332.74 Z" fill="#0000ff"/>
<path d="M383.14 327.58 L380.59 332 L385.69 332 Z" fill="#0000ff"/>
<path d="M385.51 326.4 L382.96 330.81 L388.06 330.81 Z" fill="#0000ff"/>
<path d="M387.59 325.8 L385.04 330.22 L390.14 330.22 Z" fill="#0000ff"/>
<path d="M389.46 324.61 L386.91 329.03 L392.01 329.03 Z" fill="#0000ff"/>
<path d="M401.73 321.2 L399.18 325.61 L404.28 325.61 Z" fill="#0000ff"/>
<path d="M408.91 316.89 L406.36 321.3 L411.46 321.3 Z" fill="#0000ff"/>
<path d="M414.01 314.06 L411.46 318.48 L416.56 318.48 Z" fill="#0000ff"/>
<path d="M417.96 310.94 L415.41 315.36 L420.51 315.36 Z" fill="#0000ff"/>
<path d="M421.19 307.97 L418.64 312.39 L423.74 312.39 Z" fill="#0000ff"/>
<path d="M423.91 305.6 L421.36 310.01 L426.46 310.01 Z" fill="#0000ff"/>
<path d="M426.28 303.81 L423.73 308.23 L428.83 308.23 Z" fill="#0000ff"/>
<path d="M428.36 302.77 L425.81 307.19 L430.91 307.19 Z" fill="#0000ff"/>
<path d="M430.23 301.58 L427.68 306 L432.78 306 Z" fill="#0000ff"/>
<path d="M442.5 286.88 L439.95 291.29 L445.05 291.29 Z" fill="#0000ff"/>
<path d="M449.68 277.22 L447.13 281.64 L452.23 281.64 Z" fill="#0000ff"/>
<path d="M454.78 271.13 L452.23 275.54 L457.33 275.54 Z" fill="#0000ff"/>
<path d="M458.73 266.23 L456.18 270.64 L461.28 270.64 Z" fill="#0000ff"/>
<path d="M461.96 263.25 L459.41 267.67 L464.51 267.67 Z" fill="#0000ff"/>
<path d="M464.68 260.73 L462.13 265.14 L467.23 265.14 Z" fill="#0000ff"/>
<path d="M467.05 258.05 L464.5 262.47 L469.6 262.47 Z" fill="#0000ff"/>
<path d="M469.13 255.23 L466.58 259.65 L471.68 259.65 Z" fill="#0000ff"/>
<path d="M471 252.56 L468.45 256.97 L473.55 256.97 Z" fill="#0000ff"/>
<path d="M483.27 241.41 L480.72 245.83 L485.82 245.83 Z" fill="#0000ff"/>
<path d="M490.45 235.47 L487.9 239.89 L493 239.89 Z" fill="#0000ff"/>
<path d="M495.55 232.5 L493 236.92 L498.1 236.92 Z" fill="#0000ff"/>
<path d="M499.5 230.57 L496.95 234.98 L502.05 234.98 Z" fill="#0000ff"/>
<path d="M502.73 229.53 L500.18 233.94 L505.28 233.94 Z" fill="#0000ff"/>
<path d="M505.45 228.64 L502.9 233.05 L508 233.05 Z" fill="#0000ff"/>
<path d="M507.82 228.34 L505.27 232.76 L510.37 232.76 Z" fill="#0000ff"/>
<path d="M509.9 227.89 L507.35 232.31 L512.45 232.31 Z" fill="#0000ff"/>
<path d="M511.77 227.45 L509.22 231.86 L514.32 231.86 Z" fill="#0000ff"/>
<path d="M524.04 229.38 L521.49 233.8 L526.59 233.8 Z" fill="#0000ff"/>
<path d="M531.22 232.05 L528.67 236.47 L533.77 236.47 Z" fill="#0000ff"/>
<path d="M536.32 235.47 L533.77 239.89 L538.87 239.89 Z" fill="#0000ff"/>
<path d="M540.27 238.15 L537.72 242.56 L542.82 242.56 Z" fill="#0000ff"/>
<polyline fill="none" stroke="#008080" stroke-width="1.0" stroke-opacity="0.6" points="332.47,307.95 336.42,306.91 339.65,305.72 342.37,304.97 344.74,303.93 346.82,303.19 348.69,302.6 360.96,295.02 368.14,291.9 373.24,289.37 377.19,287.89 380.42,286.7 383.14,284.77 385.51,283.14 387.59,281.35 389.46,280.46 401.73,273.92 408.91,269.62 414.01,266.05 417.96,263.67 421.19,261.44 423.91,259.51 426.28,258.03 428.36,256.69 430.23,255.8 442.5,248.07 449.68,240.5 454.78,236.63 458.73,233.51 461.96,231.58 464.68,229.5 467.05,228.02 469.13,226.83 471,226.08 483.27,222.96 490.45,222.22 495.55,222.37 499.5,223.56 502.73,224.9 505.45,225.64 507.82,226.98 509.9,227.72 511.77,228.91 524.04,237.08 531.22,243.32 536.32,245.4 540.27,247.63"/>
<path d="M332.47 310.89 L329.92 306.47 L335.02 306.47 Z" fill="#008080"/>
<path d="M336.42 309.85 L333.87 305.43 L338.97 305.43 Z" fill="#008080"/>
<path d="M339.65 308.66 L337.1 304.25 L342.2 304.25 Z" fill="#008080"/>
<path d="M342.37 307.92 L339.82 303.5 L344.92 303.5 Z" fill="#008080"/>
<path d="M344.74 306.88 L342.19 302.46 L347.29 302.46 Z" fill="#008080"/>
<path d="M346.82 306.14 L344.27 301.72 L349.37 301.72 Z" fill="#008080"/>
<path d="M348.69 305.54 L346.14 301.13 L351.24 301.13 Z" fill="#008080"/>
<path d="M360.96 297.97 L358.41 293.55 L363.51 293.55 Z" fill="#008080"/>
<path d="M368.14 294.85 L365.59 290.43 L370.69 290.43 Z" fill="#008080"/>
<path d="M373.24 292.32 L370.69 287.9 L375.79 287.9 Z" fill="#008080"/>
<path d="M377.19 290.83 L374.64 286.42 L379.74 286.42 Z" fill="#008080"/>
<path d="M380.42 289.65 L377.87 285.23 L382.97 285.23 Z" fill="#008080"/>
<path d="M383.14 287.71 L380.59 283.3 L385.69 283.3 Z" fill="#008080"/>
<path d="M385.51 286.08 L382.96 281.66 L388.06 281.66 Z" fill="#008080"/>
<path d="M387.59 284.3 L385.04 279.88 L390.14 279.88 Z" fill="#008080"/>
<path d="M389.46 283.41 L386.91 278.99 L392.01 278.99 Z" fill="#008080"/>
<path d="M401.73 276.87 L399.18 272.45 L404.28 272.45 Z" fill="#008080"/>
<path d="M408.91 272.56 L406.36 268.14 L411.46 268.14 Z" fill="#008080"/>
<path d="M414.01 268.99 L411.46 264.58 L416.56 264.58 Z" fill="#008080"/>
<path d="M417.96 266.62 L415.41 262.2 L420.51 262.2 Z" fill="#008080"/>
<path d="M421.19 264.39 L418.64 259.97 L423.74 259.97 Z" fill="#008080"/>
<path d="M423.91 262.46 L421.36 258.04 L426.46 258.04 Z" fill="#008080"/>
<path d="M426.28 260.97 L423.73 256.55 L428.83 256.55 Z" fill="#008080"/>
<path d="M428.36 259.63 L425.81 255.22 L430.91 255.22 Z" fill="#008080"/>
<path d="M430.23 258.74 L427.68 254.33 L432.78 254.33 Z" fill="#008080"/>
<path d="M442.5 251.02 L439.95 246.6 L445.05 246.6 Z" fill="#008080"/>
<path d="M449.68 243.44 L447.13 239.02 L452.23 239.02 Z" fill="#008080"/>
<path d="M454.78 239.58 L452.23 235.16 L457.33 235.16 Z" fill="#008080"/>
<path d="M458.73 236.46 L456.18 232.04 L461.28 232.04 Z" fill="#008080"/>
<path d="M461.96 234.53 L459.41 230.11 L464.51 230.11 Z" fill="#008080"/>
<path d="M464.68 232.45 L462.13 228.03 L467.23 228.03 Z" fill="#008080"/>
<path d="M467.05 230.96 L464.5 226.54 L469.6 226.54 Z" fill="#008080"/>
<path d="M469.13 229.77 L466.58 225.35 L471.68 225.35 Z" fill="#008080"/>
<path d="M471 229.03 L468.45 224.61 L473.55 224.61 Z" fill="#008080"/>
<path d="M483.27 225.91 L480.72 221.49 L485.82 221.49 Z" fill="#008080"/>
<path d="M490.45 225.17 L487.9 220.75 L493 220.75 Z" fill="#008080"/>
<path d="M495.55 225.31 L493 220.9 L498.1 220.9 Z" fill="#008080"/>
<path d="M499.5 226.5 L496.95 222.09 L502.05 222.09 Z" fill="#008080"/>
<path d="M502.73 227.84 L500.18 223.42 L505.28 223.42 Z" fill="#008080"/>
<path d="M505.45 228.58 L502.9 224.17 L508 224.17 Z" fill="#008080"/>
<path d="M507.82 229.92 L505.27 225.5 L510.37 225.5 Z" fill="#008080"/>
<path d="M509.9 230.66 L507.35 226.25 L512.45 226.25 Z" fill="#008080"/>
<path d="M511.77 231.85 L509.22 227.43 L514.32 227.43 Z" fill="#008080"/>
<path d="M524.04 240.02 L521.49 235.61 L526.59 235.61 Z" fill="#008080"/>
<path d="M531.22 246.26 L528.67 241.85 L533.77 241.85 Z" fill="#008080"/>
<path d="M536.32 248.34 L533.77 243.93 L538.87 243.93 Z" fill="#008080"/>
<path d="M540.27 250.57 L537.72 246.15 L542.82 246.15 Z" fill="#008080"/>
<polyline fill="none" stroke="#ff00ff" stroke-width="1.0" stroke-opacity="0.6" points="332.47,234.55 336.42,232.62 339.65,230.84 342.37,229.5 344.74,228.46 346.82,227.42 348.69,226.38 360.96,223.26 368.14,221.18 373.24,219.84 377.19,218.8 380.42,217.62 383.14,216.87 385.51,216.43 387.59,216.58 389.46,216.72 401.73,214.35 408.91,213.9 414.01,212.12 417.96,212.56 421.19,212.86 423.91,213.16 426.28,213.6 428.36,214.2 430.23,214.79 442.5,217.02 449.68,220.14 454.78,222.37 458.73,224.3 461.96,226.08 464.68,227.42 467.05,228.91 469.13,230.1 471,230.99 483.27,236.63 490.45,240.64 495.55,243.47 499.5,245.7 502.73,247.63 505.45,249.11 507.82,250.15 509.9,251.04 511.77,251.64 524.04,259.96 531.22,265.46 536.32,272.44 540.27,275.86"/>
<path d="M329.52 234.55 L333.94 232 L333.94 237.1 Z" fill="#ff00ff"/>
<path d="M333.47 232.62 L337.89 230.07 L337.89 235.17 Z" fill="#ff00ff"/>
<path d="M336.7 230.84 L341.12 228.29 L341.12 233.39 Z" fill="#ff00ff"/>
<path d="M339.43 229.5 L343.85 226.95 L343.85 232.05 Z" fill="#ff00ff"/>
<path d="M341.79 228.46 L346.21 225.91 L346.21 231.01 Z" fill="#ff00ff"/>
<path d="M343.88 227.42 L348.3 224.87 L348.3 229.97 Z" fill="#ff00ff"/>
<path d="M345.75 226.38 L350.16 223.83 L350.16 228.93 Z" fill="#ff00ff"/>
<path d="M358.02 223.26 L362.44 220.71 L362.44 225.81 Z" fill="#ff00ff"/>
<path d="M365.2 221.18 L369.61 218.63 L369.61 223.73 Z" fill="#ff00ff"/>
<path d="M370.29 219.84 L374.71 217.29 L374.71 222.39 Z" fill="#ff00ff"/>
<path d="M374.24 218.8 L378.66 216.25 L378.66 221.35 Z" fill="#ff00ff"/>
<path d="M377.47 217.62 L381.89 215.07 L381.89 220.17 Z" fill="#ff00ff"/>
<path d="M380.2 216.87 L384.62 214.32 L384.62 219.42 Z" fill="#ff00ff"/>
<path d="M382.56 216.43 L386.98 213.88 L386.98 218.98 Z" fill="#ff00ff"/>
<path d="M384.65 216.58 L389.07 214.03 L389.07 219.13 Z" fill="#ff00ff"/>
<path d="M386.52 216.72 L390.93 214.17 L390.93 219.27 Z" fill="#ff00ff"/>
<path d="M398.79 214.35 L403.21 211.8 L403.21 216.9 Z" fill="#ff00ff"/>
<path d="M405.97 213.9 L410.38 211.35 L410.38 216.45 Z" fill="#ff00ff"/>
<path d="M411.06 212.12 L415.48 209.57 L415.48 214.67 Z" fill="#ff00ff"/>
<path d="M415.01 212.56 L419.43 210.01 L419.43 215.11 Z" fill="#ff00ff"/>
<path d="M418.24 212.86 L422.66 210.31 L422.66 215.41 Z" fill="#ff00ff"/>
<path d="M420.97 213.16 L425.39 210.61 L425.39 215.71 Z" fill="#ff00ff"/>
<path d="M423.33 213.6 L427.75 211.05 L427.75 216.15 Z" fill="#ff00ff"/>
<path d="M425.42 214.2 L429.84 211.65 L429.84 216.75 Z" fill="#ff00ff"/>
<path d="M427.29 214.79 L431.7 212.24 L431.7 217.34 Z" fill="#ff00ff"/>
<path d="M439.56 217.02 L443.98 214.47 L443.98 219.57 Z" fill="#ff00ff"/>
<path d="M446.74 220.14 L451.15 217.59 L451.15 222.69 Z" fill="#ff00ff"/>
<path d="M451.83 222.37 L456.25 219.82 L456.25 224.92 Z" fill="#ff00ff"/>
<path d="M455.78 224.3 L460.2 221.75 L460.2 226.85 Z" fill="#ff00ff"/>
<path d="M459.01 226.08 L463.43 223.53 L463.43 228.63 Z" fill="#ff00ff"/>
<path d="M461.74 227.42 L466.16 224.87 L466.16 229.97 Z" fill="#ff00ff"/>
<path d="M464.1 228.91 L468.52 226.36 L468.52 231.46 Z" fill="#ff00ff"/>
<path d="M466.19 230.1 L470.61 227.55 L470.61 232.65 Z" fill="#ff00ff"/>
<path d="M468.06 230.99 L472.47 228.44 L472.47 233.54 Z" fill="#ff00ff"/>
<path d="M480.33 236.63 L484.75 234.08 L484.75 239.18 Z" fill="#ff00ff"/>
<path d="M487.51 240.64 L491.92 238.09 L491.92 243.19 Z" fill="#ff00ff"/>
<path d="M492.6 243.47 L497.02 240.92 L497.02 246.02 Z" fill="#ff00ff"/>
<path d="M496.55 245.7 L500.97 243.15 L500.97 248.25 Z" fill="#ff00ff"/>
<path d="M499.78 247.63 L504.2 245.08 L504.2 250.18 Z" fill="#ff00ff"/>
<path d="M502.51 249.11 L506.93 246.56 L506.93 251.66 Z" fill="#ff00ff"/>
<path d="M504.87 250.15 L509.29 247.6 L509.29 252.7 Z" fill="#ff00ff"/>
<path d="M506.96 251.04 L511.38 248.49 L511.38 253.59 Z" fill="#ff00ff"/>
<path d="M508.83 251.64 L513.24 249.09 L513.24 254.19 Z" fill="#ff00ff"/>
<path d="M521.1 259.96 L525.52 257.41 L525.52 262.51 Z" fill="#ff00ff"/>
<path d="M528.28 265.46 L532.69 262.91 L532.69 268.01 Z" fill="#ff00ff"/>
<path d="M533.37 272.44 L537.79 269.89 L537.79 274.99 Z" fill="#ff00ff"/>
<path d="M537.32 275.86 L541.74 273.31 L541.74 278.41 Z" fill="#ff00ff"/>
<polyline fill="none" stroke="#808000" stroke-width="1.0" stroke-opacity="0.6" points="336.42,219.25 339.65,215.09 342.37,213.6 344.74,212.86 346.82,212.42 348.69,211.97 360.96,211.97 368.14,211.67 373.24,211.67 377.19,210.93 380.42,210.93 383.14,210.93 385.51,210.93 387.59,210.93 389.46,210.93 401.73,211.52 408.91,211.82 414.01,212.12 417.96,214.2 421.19,215.39 423.91,217.32 426.28,219.25 428.36,220.44 430.23,221.78 442.5,230.69 449.68,236.34 454.78,239.75 458.73,242.87 461.96,245.4 464.68,247.48 467.05,249.11 469.13,250.75 471,252.23 483.27,259.36 490.45,265.46 495.55,268.43 499.5,271.55 502.73,273.92 505.45,275.71 507.82,277.34 509.9,278.53 511.77,280.31 524.04,291.16 531.22,299.92 536.32,305.57 540.27,307.5"/>
<path d="M339.36 219.25 L334.94 216.7 L334.94 221.8 Z" fill="#808000"/>
<path d="M342.59 215.09 L338.17 212.54 L338.17 217.64 Z" fill="#808000"/>
<path d="M345.32 213.6 L340.9 211.05 L340.9 216.15 Z" fill="#808000"/>
<path d="M347.68 212.86 L343.27 210.31 L343.27 215.41 Z" fill="#808000"/>
<path d="M349.77 212.42 L345.35 209.87 L345.35 214.97 Z" fill="#808000"/>
<path d="M351.63 211.97 L347.22 209.42 L347.22 214.52 Z" fill="#808000"/>
<path d="M363.91 211.97 L359.49 209.42 L359.49 214.52 Z" fill="#808000"/>
<path d="M371.09 211.67 L366.67 209.12 L366.67 214.22 Z" fill="#808000"/>
<path d="M376.18 211.67 L371.76 209.12 L371.76 214.22 Z" fill="#808000"/>
<path d="M380.13 210.93 L375.71 208.38 L375.71 213.48 Z" fill="#808000"/>
<path d="M383.36 210.93 L378.94 208.38 L378.94 213.48 Z" fill="#808000"/>
<path d="M386.09 210.93 L381.67 208.38 L381.67 213.48 Z" fill="#808000"/>
<path d="M388.45 210.93 L384.04 208.38 L384.04 213.48 Z" fill="#808000"/>
<path d="M390.54 210.93 L386.12 208.38 L386.12 213.48 Z" fill="#808000"/>
<path d="M392.4 210.93 L387.99 208.38 L387.99 213.48 Z" fill="#808000"/>
<path d="M404.68 211.52 L400.26 208.97 L400.26 214.07 Z" fill="#808000"/>
<path d="M411.86 211.82 L407.44 209.27 L407.44 214.37 Z" fill="#808000"/>
<path d="M416.95 212.12 L412.53 209.57 L412.53 214.67 Z" fill="#808000"/>
<path d="M420.9 214.2 L416.48 211.65 L416.48 216.75 Z" fill="#808000"/>
<path d="M424.13 215.39 L419.71 212.84 L419.71 217.94 Z" fill="#808000"/>
<path d="M426.86 217.32 L422.44 214.77 L422.44 219.87 Z" fill="#808000"/>
<path d="M429.22 219.25 L424.81 216.7 L424.81 221.8 Z" fill="#808000"/>
<path d="M431.31 220.44 L426.89 217.89 L426.89 222.99 Z" fill="#808000"/>
<path d="M433.17 221.78 L428.76 219.23 L428.76 224.33 Z" fill="#808000"/>
<path d="M445.45 230.69 L441.03 228.14 L441.03 233.24 Z" fill="#808000"/>
<path d="M452.63 236.34 L448.21 233.79 L448.21 238.89 Z" fill="#808000"/>
<path d="M457.72 239.75 L453.3 237.2 L453.3 242.3 Z" fill="#808000"/>
<path d="M461.67 242.87 L457.25 240.32 L457.25 245.42 Z" fill="#808000"/>
<path d="M464.9 245.4 L460.48 242.85 L460.48 247.95 Z" fill="#808000"/>
<path d="M467.63 247.48 L463.21 244.93 L463.21 250.03 Z" fill="#808000"/>
<path d="M469.99 249.11 L465.58 246.56 L465.58 251.66 Z" fill="#808000"/>
<path d="M472.08 250.75 L467.66 248.2 L467.66 253.3 Z" fill="#808000"/>
<path d="M473.94 252.23 L469.53 249.68 L469.53 254.78 Z" fill="#808000"/>
<path d="M486.22 259.36 L481.8 256.81 L481.8 261.91 Z" fill="#808000"/>
<path d="M493.4 265.46 L488.98 262.91 L488.98 268.01 Z" fill="#808000"/>
<path d="M498.49 268.43 L494.07 265.88 L494.07 270.98 Z" fill="#808000"/>
<path d="M502.44 271.55 L498.02 269 L498.02 274.1 Z" fill="#808000"/>
<path d="M505.67 273.92 L501.25 271.37 L501.25 276.47 Z" fill="#808000"/>
<path d="M508.4 275.71 L503.98 273.16 L503.98 278.26 Z" fill="#808000"/>
<path d="M510.76 277.34 L506.35 274.79 L506.35 279.89 Z" fill="#808000"/>
<path d="M512.85 278.53 L508.43 275.98 L508.43 281.08 Z" fill="#808000"/>
<path d="M514.71 280.31 L510.3 277.76 L510.3 282.86 Z" fill="#808000"/>
<path d="M526.99 291.16 L522.57 288.61 L522.57 293.71 Z" fill="#808000"/>
<path d="M534.17 299.92 L529.75 297.37 L529.75 302.47 Z" fill="#808000"/>
<path d="M539.26 305.57 L534.84 303.02 L534.84 308.12 Z" fill="#808000"/>
<path d="M543.21 307.5 L538.79 304.95 L538.79 310.05 Z" fill="#808000"/>
</g>
<rect x="332.5" y="203.5" width="211" height="156" fill="none" stroke="#3a3a3a" stroke-width="1.0"/>
<path d="M348.69 359.5v-3.4M348.69 203.5v3.4M389.46 359.5v-3.4M389.46 203.5v3.4M430.23 359.5v-3.4M430.23 203.5v3.4M471 359.5v-3.4M471 203.5v3.4M511.77 359.5v-3.4M511.77 203.5v3.4M336.42 359.5v-1.9M336.42 203.5v1.9M339.65 359.5v-1.9M339.65 203.5v1.9M342.37 359.5v-1.9M342.37 203.5v1.9M344.74 359.5v-1.9M344.74 203.5v1.9M346.82 359.5v-1.9M346.82 203.5v1.9M360.96 359.5v-1.9M360.96 203.5v1.9M368.14 359.5v-1.9M368.14 203.5v1.9M373.24 359.5v-1.9M373.24 203.5v1.9M377.19 359.5v-1.9M377.19 203.5v1.9M380.42 359.5v-1.9M380.42 203.5v1.9M383.14 359.5v-1.9M383.14 203.5v1.9M385.51 359.5v-1.9M385.51 203.5v1.9M387.59 359.5v-1.9M387.59 203.5v1.9M401.73 359.5v-1.9M401.73 203.5v1.9M408.91 359.5v-1.9M408.91 203.5v1.9M414.01 359.5v-1.9M414.01 203.5v1.9M417.96 359.5v-1.9M417.96 203.5v1.9M421.19 359.5v-1.9M421.19 203.5v1.9M423.91 359.5v-1.9M423.91 203.5v1.9M426.28 359.5v-1.9M426.28 203.5v1.9M428.36 359.5v-1.9M428.36 203.5v1.9M442.5 359.5v-1.9M442.5 203.5v1.9M449.68 359.5v-1.9M449.68 203.5v1.9M454.78 359.5v-1.9M454.78 203.5v1.9M458.73 359.5v-1.9M458.73 203.5v1.9M461.96 359.5v-1.9M461.96 203.5v1.9M464.68 359.5v-1.9M464.68 203.5v1.9M467.05 359.5v-1.9M467.05 203.5v1.9M469.13 359.5v-1.9M469.13 203.5v1.9M483.27 359.5v-1.9M483.27 203.5v1.9M490.45 359.5v-1.9M490.45 203.5v1.9M495.55 359.5v-1.9M495.55 203.5v1.9M499.5 359.5v-1.9M499.5 203.5v1.9M502.73 359.5v-1.9M502.73 203.5v1.9M505.45 359.5v-1.9M505.45 203.5v1.9M507.82 359.5v-1.9M507.82 203.5v1.9M509.9 359.5v-1.9M509.9 203.5v1.9M524.04 359.5v-1.9M524.04 203.5v1.9M531.22 359.5v-1.9M531.22 203.5v1.9M536.32 359.5v-1.9M536.32 203.5v1.9M540.27 359.5v-1.9M540.27 203.5v1.9M332.5 352.07h1.9M543.5 352.07h-1.9M332.5 344.64h1.9M543.5 344.64h-1.9M332.5 337.21h1.9M543.5 337.21h-1.9M332.5 329.79h3.4M543.5 329.79h-3.4M332.5 322.36h1.9M543.5 322.36h-1.9M332.5 314.93h1.9M543.5 314.93h-1.9M332.5 307.5h1.9M543.5 307.5h-1.9M332.5 300.07h3.4M543.5 300.07h-3.4M332.5 292.64h1.9M543.5 292.64h-1.9M332.5 285.22h1.9M543.5 285.22h-1.9M332.5 277.79h1.9M543.5 277.79h-1.9M332.5 270.36h3.4M543.5 270.36h-3.4M332.5 262.93h1.9M543.5 262.93h-1.9M332.5 255.5h1.9M543.5 255.5h-1.9M332.5 248.07h1.9M543.5 248.07h-1.9M332.5 240.64h3.4M543.5 240.64h-3.4M332.5 233.22h1.9M543.5 233.22h-1.9M332.5 225.79h1.9M543.5 225.79h-1.9M332.5 218.36h1.9M543.5 218.36h-1.9M332.5 210.93h3.4M543.5 210.93h-3.4" stroke="#3a3a3a" stroke-width="1.0" fill="none"/>
<text transform="translate(328.8 362.13) scale(0.93 1)" text-anchor="end" font-size="9.3">0</text>
<text transform="translate(328.8 332.41) scale(0.93 1)" text-anchor="end" font-size="9.3">20</text>
<text transform="translate(328.8 302.7) scale(0.93 1)" text-anchor="end" font-size="9.3">40</text>
<text transform="translate(328.8 272.99) scale(0.93 1)" text-anchor="end" font-size="9.3">60</text>
<text transform="translate(328.8 243.27) scale(0.93 1)" text-anchor="end" font-size="9.3">80</text>
<text transform="translate(328.8 213.56) scale(0.93 1)" text-anchor="end" font-size="9.3">100</text>
<text transform="translate(349.49 371.8) scale(0.93 1)" text-anchor="middle" font-size="9.3">10<tspan dx="-0.4" dy="-4.4" font-size="6.6">-3</tspan></text>
<text transform="translate(390.26 371.8) scale(0.93 1)" text-anchor="middle" font-size="9.3">10<tspan dx="-0.4" dy="-4.4" font-size="6.6">-2</tspan></text>
<text transform="translate(431.03 371.8) scale(0.93 1)" text-anchor="middle" font-size="9.3">10<tspan dx="-0.4" dy="-4.4" font-size="6.6">-1</tspan></text>
<text transform="translate(471.8 371.8) scale(0.93 1)" text-anchor="middle" font-size="9.3">10<tspan dx="-0.4" dy="-4.4" font-size="6.6">0</tspan></text>
<text transform="translate(512.57 371.8) scale(0.93 1)" text-anchor="middle" font-size="9.3">10<tspan dx="-0.4" dy="-4.4" font-size="6.6">1</tspan></text>
<text x="438.3" y="384" text-anchor="middle" font-size="10.4">Current (mA)</text>
<text transform="translate(308.1 280.3) rotate(-90)" text-anchor="middle" font-size="10.6">IQE (%)</text>
<path d="M469.3 296.1H474.9M480.5 296.1H486.9" stroke="#000000" stroke-width="1.3" opacity="0.45"/>
<rect x="475.95" y="294.35" width="3.5" height="3.5" fill="#000000"/>
<text transform="translate(510.6 298.9) scale(0.89 1)" text-anchor="end" font-size="9.3">300 K</text>
<path d="M469.3 306.2H474.9M480.5 306.2H486.9" stroke="#ff0000" stroke-width="1.3" opacity="0.45"/>
<circle cx="477.7" cy="306.2" r="2.1" fill="#ff0000"/>
<text transform="translate(510.6 309) scale(0.89 1)" text-anchor="end" font-size="9.3">250 K</text>
<path d="M469.3 316.2H474.9M480.5 316.2H486.9" stroke="#0000ff" stroke-width="1.3" opacity="0.45"/>
<path d="M477.7 313.26 L475.15 317.67 L480.25 317.67 Z" fill="#0000ff"/>
<text transform="translate(510.6 319) scale(0.89 1)" text-anchor="end" font-size="9.3">200 K</text>
<path d="M469.3 326.3H474.9M480.5 326.3H486.9" stroke="#008080" stroke-width="1.3" opacity="0.45"/>
<path d="M477.7 329.24 L475.15 324.83 L480.25 324.83 Z" fill="#008080"/>
<text transform="translate(510.6 329.1) scale(0.89 1)" text-anchor="end" font-size="9.3">150 K</text>
<path d="M469.3 336.5H474.9M480.5 336.5H486.9" stroke="#ff00ff" stroke-width="1.3" opacity="0.45"/>
<path d="M474.76 336.5 L479.17 333.95 L479.17 339.05 Z" fill="#ff00ff"/>
<text transform="translate(510.6 339.3) scale(0.89 1)" text-anchor="end" font-size="9.3">100 K</text>
<path d="M469.3 346.6H474.9M480.5 346.6H486.9" stroke="#808000" stroke-width="1.3" opacity="0.45"/>
<path d="M480.64 346.6 L476.23 344.05 L476.23 349.15 Z" fill="#808000"/>
<text transform="translate(510.6 349.4) scale(0.89 1)" text-anchor="end" font-size="9.3">50 K</text>
</g></svg>
</body></html>
